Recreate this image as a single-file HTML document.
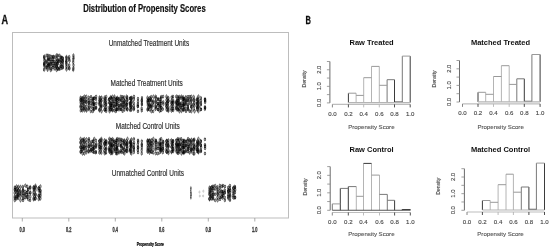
<!DOCTYPE html>
<html><head><meta charset="utf-8"><style>
html,body{margin:0;padding:0;background:#fff;}
body{width:550px;height:249px;overflow:hidden;}
svg{display:block;font-family:"Liberation Sans", Arial, sans-serif;}
</style></head><body>
<svg width="550" height="249" viewBox="0 0 550 249">
<defs><filter id="bl" x="-5%" y="-20%" width="110%" height="140%"><feGaussianBlur stdDeviation="0.3 0.7"/></filter><filter id="gb" x="0" y="0" width="550" height="249" filterUnits="userSpaceOnUse"><feGaussianBlur stdDeviation="0.3"/></filter></defs>
<rect width="550" height="249" fill="#fff"/>
<g filter="url(#gb)">
<text x="0.00" y="0.00" transform="translate(4.85,23.70) scale(0.76,1)" font-size="12.0" font-weight="bold" fill="#111" stroke="#111" stroke-width="0.3" text-anchor="middle" >A</text>
<text x="0.00" y="0.00" transform="translate(144.40,12.40) scale(0.715,1)" font-size="10.8" font-weight="bold" fill="#111" stroke="#111" stroke-width="0.2" text-anchor="middle" >Distribution of Propensity Scores</text>
<rect x="12.5" y="32.5" width="276" height="185.5" fill="none" stroke="#bdbdbd" stroke-width="1"/>
<text x="0.00" y="0.00" transform="translate(148.90,46.30) scale(0.744,1)" font-size="8.7" font-weight="normal" fill="#2e2e2e" stroke="#2e2e2e" stroke-width="0.18" text-anchor="middle" >Unmatched Treatment Units</text>
<text x="0.00" y="0.00" transform="translate(146.60,85.70) scale(0.744,1)" font-size="8.7" font-weight="normal" fill="#2e2e2e" stroke="#2e2e2e" stroke-width="0.18" text-anchor="middle" >Matched Treatment Units</text>
<text x="0.00" y="0.00" transform="translate(147.80,129.20) scale(0.744,1)" font-size="8.7" font-weight="normal" fill="#2e2e2e" stroke="#2e2e2e" stroke-width="0.18" text-anchor="middle" >Matched Control Units</text>
<text x="0.00" y="0.00" transform="translate(147.90,175.50) scale(0.744,1)" font-size="8.7" font-weight="normal" fill="#2e2e2e" stroke="#2e2e2e" stroke-width="0.18" text-anchor="middle" >Unmatched Control Units</text>
<line x1="22.30" y1="218" x2="22.30" y2="221.5" stroke="#999" stroke-width="0.8"/>
<text x="0.00" y="0.00" transform="translate(22.30,231.80) scale(0.56,1)" font-size="7.0" font-weight="bold" fill="#333" stroke="#333" stroke-width="0.3" text-anchor="middle" >0.0</text>
<line x1="68.80" y1="218" x2="68.80" y2="221.5" stroke="#999" stroke-width="0.8"/>
<text x="0.00" y="0.00" transform="translate(68.80,231.80) scale(0.56,1)" font-size="7.0" font-weight="bold" fill="#333" stroke="#333" stroke-width="0.3" text-anchor="middle" >0.2</text>
<line x1="115.30" y1="218" x2="115.30" y2="221.5" stroke="#999" stroke-width="0.8"/>
<text x="0.00" y="0.00" transform="translate(115.30,231.80) scale(0.56,1)" font-size="7.0" font-weight="bold" fill="#333" stroke="#333" stroke-width="0.3" text-anchor="middle" >0.4</text>
<line x1="161.80" y1="218" x2="161.80" y2="221.5" stroke="#999" stroke-width="0.8"/>
<text x="0.00" y="0.00" transform="translate(161.80,231.80) scale(0.56,1)" font-size="7.0" font-weight="bold" fill="#333" stroke="#333" stroke-width="0.3" text-anchor="middle" >0.6</text>
<line x1="208.30" y1="218" x2="208.30" y2="221.5" stroke="#999" stroke-width="0.8"/>
<text x="0.00" y="0.00" transform="translate(208.30,231.80) scale(0.56,1)" font-size="7.0" font-weight="bold" fill="#333" stroke="#333" stroke-width="0.3" text-anchor="middle" >0.8</text>
<line x1="254.80" y1="218" x2="254.80" y2="221.5" stroke="#999" stroke-width="0.8"/>
<text x="0.00" y="0.00" transform="translate(254.80,231.80) scale(0.56,1)" font-size="7.0" font-weight="bold" fill="#333" stroke="#333" stroke-width="0.3" text-anchor="middle" >1.0</text>
<text x="0.00" y="0.00" transform="translate(150.40,245.70) scale(0.61,1)" font-size="5.4" font-weight="bold" fill="#000" stroke="#000" stroke-width="0.25" text-anchor="middle" >Propensity Score</text>
<g fill="#000" filter="url(#bl)"><rect x="80.15" y="96.13" width="4.70" height="14.80" fill-opacity="0.27"/><rect x="87.85" y="96.58" width="1.80" height="14.06" fill-opacity="0.18"/><rect x="92.35" y="96.52" width="2.30" height="14.84" fill-opacity="0.09"/><rect x="98.95" y="96.08" width="2.90" height="14.54" fill-opacity="0.30"/><rect x="104.05" y="97.13" width="2.60" height="13.66" fill-opacity="0.18"/><rect x="108.85" y="97.08" width="4.10" height="14.32" fill-opacity="0.33"/><rect x="115.55" y="96.66" width="2.10" height="14.40" fill-opacity="0.27"/><rect x="120.15" y="95.93" width="1.70" height="15.14" fill-opacity="0.23"/><rect x="123.55" y="97.18" width="1.70" height="14.62" fill-opacity="0.23"/><rect x="125.95" y="96.65" width="2.00" height="14.98" fill-opacity="0.04"/><rect x="129.65" y="95.98" width="2.30" height="15.72" fill-opacity="0.30"/><rect x="147.15" y="97.10" width="4.70" height="13.68" fill-opacity="0.27"/><rect x="154.85" y="96.25" width="1.80" height="14.31" fill-opacity="0.18"/><rect x="159.35" y="96.67" width="2.30" height="14.95" fill-opacity="0.09"/><rect x="165.95" y="96.19" width="2.90" height="15.58" fill-opacity="0.30"/><rect x="171.05" y="96.61" width="2.60" height="14.41" fill-opacity="0.18"/><rect x="175.85" y="96.48" width="4.10" height="15.08" fill-opacity="0.33"/><rect x="182.55" y="96.90" width="2.10" height="14.44" fill-opacity="0.27"/><rect x="187.15" y="97.34" width="1.70" height="13.13" fill-opacity="0.23"/><rect x="190.55" y="97.38" width="1.70" height="14.12" fill-opacity="0.23"/><rect x="192.95" y="97.01" width="2.00" height="14.59" fill-opacity="0.04"/><rect x="196.65" y="96.34" width="2.30" height="15.38" fill-opacity="0.30"/><rect x="80.15" y="139.03" width="4.70" height="14.21" fill-opacity="0.27"/><rect x="87.85" y="138.89" width="1.80" height="15.04" fill-opacity="0.18"/><rect x="92.35" y="139.60" width="2.30" height="14.51" fill-opacity="0.09"/><rect x="98.95" y="138.47" width="2.90" height="14.62" fill-opacity="0.30"/><rect x="104.05" y="138.57" width="2.60" height="15.41" fill-opacity="0.18"/><rect x="108.85" y="138.46" width="4.10" height="15.27" fill-opacity="0.33"/><rect x="115.55" y="138.41" width="2.10" height="15.74" fill-opacity="0.27"/><rect x="120.15" y="138.82" width="1.70" height="14.73" fill-opacity="0.23"/><rect x="123.55" y="139.15" width="1.70" height="14.92" fill-opacity="0.23"/><rect x="125.95" y="138.55" width="2.00" height="14.96" fill-opacity="0.04"/><rect x="129.65" y="138.44" width="2.30" height="15.27" fill-opacity="0.30"/><rect x="147.15" y="138.52" width="4.70" height="14.66" fill-opacity="0.27"/><rect x="154.85" y="138.29" width="1.80" height="14.67" fill-opacity="0.18"/><rect x="159.35" y="139.46" width="2.30" height="14.45" fill-opacity="0.09"/><rect x="165.95" y="138.85" width="2.90" height="14.71" fill-opacity="0.30"/><rect x="171.05" y="139.13" width="2.60" height="14.13" fill-opacity="0.18"/><rect x="175.85" y="138.87" width="4.10" height="15.31" fill-opacity="0.33"/><rect x="182.55" y="138.64" width="2.10" height="15.47" fill-opacity="0.27"/><rect x="187.15" y="139.33" width="1.70" height="13.69" fill-opacity="0.23"/><rect x="190.55" y="138.25" width="1.70" height="14.46" fill-opacity="0.23"/><rect x="192.95" y="138.28" width="2.00" height="15.09" fill-opacity="0.04"/><rect x="196.65" y="139.38" width="2.30" height="13.76" fill-opacity="0.30"/><rect x="43.35" y="56.14" width="1.80" height="13.66" fill-opacity="0.36"/><rect x="45.85" y="56.01" width="0.80" height="14.28" fill-opacity="0.04"/><rect x="47.35" y="55.96" width="0.80" height="13.78" fill-opacity="0.32"/><rect x="50.35" y="55.69" width="3.30" height="15.10" fill-opacity="0.23"/><rect x="55.95" y="55.01" width="2.30" height="14.91" fill-opacity="0.23"/><rect x="60.35" y="56.13" width="2.90" height="13.35" fill-opacity="0.23"/><rect x="65.55" y="56.06" width="1.70" height="13.83" fill-opacity="0.30"/><rect x="14.35" y="186.04" width="4.70" height="14.15" fill-opacity="0.19"/><rect x="22.05" y="185.46" width="1.80" height="14.84" fill-opacity="0.13"/><rect x="26.55" y="185.17" width="2.30" height="14.78" fill-opacity="0.06"/><rect x="33.15" y="184.92" width="2.90" height="14.83" fill-opacity="0.21"/><rect x="38.25" y="185.98" width="2.60" height="14.59" fill-opacity="0.13"/><rect x="208.95" y="185.96" width="4.70" height="14.80" fill-opacity="0.19"/><rect x="216.65" y="185.10" width="1.80" height="15.39" fill-opacity="0.13"/><rect x="221.15" y="185.28" width="2.30" height="14.97" fill-opacity="0.06"/><rect x="227.75" y="186.04" width="2.90" height="14.79" fill-opacity="0.21"/><rect x="232.85" y="185.90" width="2.60" height="14.10" fill-opacity="0.13"/></g>
<g fill="none" stroke="#000" stroke-width="0.65" filter="url(#bl)"><ellipse cx="80.67" cy="97.76" rx="0.70" ry="1.7"/><ellipse cx="80.73" cy="99.75" rx="0.70" ry="1.7"/><ellipse cx="80.66" cy="100.27" rx="0.70" ry="1.7"/><ellipse cx="80.72" cy="102.53" rx="0.70" ry="1.7"/><ellipse cx="80.73" cy="105.73" rx="0.70" ry="1.7"/><ellipse cx="80.65" cy="107.15" rx="0.70" ry="1.7"/><ellipse cx="80.85" cy="110.58" rx="0.70" ry="1.7"/><ellipse cx="82.45" cy="99.23" rx="0.70" ry="1.7"/><ellipse cx="82.56" cy="98.22" rx="0.70" ry="1.7"/><ellipse cx="82.42" cy="100.63" rx="0.70" ry="1.7"/><ellipse cx="82.42" cy="102.62" rx="0.70" ry="1.7"/><ellipse cx="82.71" cy="104.92" rx="0.70" ry="1.7"/><ellipse cx="82.43" cy="108.34" rx="0.70" ry="1.7"/><ellipse cx="82.41" cy="110.32" rx="0.70" ry="1.7"/><ellipse cx="84.35" cy="96.60" rx="0.70" ry="1.7"/><ellipse cx="84.47" cy="99.49" rx="0.70" ry="1.7"/><ellipse cx="84.19" cy="101.19" rx="0.70" ry="1.7"/><ellipse cx="84.23" cy="103.23" rx="0.70" ry="1.7"/><ellipse cx="84.27" cy="106.97" rx="0.70" ry="1.7"/><ellipse cx="84.21" cy="108.32" rx="0.70" ry="1.7"/><ellipse cx="84.44" cy="110.24" rx="0.70" ry="1.7"/><ellipse cx="86.21" cy="96.60" rx="0.70" ry="1.7"/><ellipse cx="86.35" cy="99.46" rx="0.70" ry="1.7"/><ellipse cx="86.28" cy="101.78" rx="0.70" ry="1.7"/><ellipse cx="86.25" cy="102.36" rx="0.70" ry="1.7"/><ellipse cx="86.17" cy="106.23" rx="0.70" ry="1.7"/><ellipse cx="86.28" cy="109.32" rx="0.70" ry="1.7"/><ellipse cx="86.52" cy="110.47" rx="0.70" ry="1.7"/><ellipse cx="88.73" cy="97.56" rx="0.70" ry="1.7"/><ellipse cx="88.71" cy="100.40" rx="0.70" ry="1.7"/><ellipse cx="88.97" cy="102.31" rx="0.70" ry="1.7"/><ellipse cx="88.74" cy="103.18" rx="0.70" ry="1.7"/><ellipse cx="88.74" cy="105.60" rx="0.70" ry="1.7"/><ellipse cx="88.73" cy="107.94" rx="0.70" ry="1.7"/><ellipse cx="88.78" cy="109.05" rx="0.70" ry="1.7"/><ellipse cx="91.03" cy="96.88" rx="0.65" ry="1.7"/><ellipse cx="91.03" cy="100.47" rx="0.65" ry="1.7"/><ellipse cx="90.96" cy="103.66" rx="0.65" ry="1.7"/><ellipse cx="91.17" cy="107.05" rx="0.65" ry="1.7"/><ellipse cx="90.85" cy="111.20" rx="0.65" ry="1.7"/><ellipse cx="92.94" cy="99.17" rx="0.70" ry="1.7"/><ellipse cx="92.96" cy="98.83" rx="0.70" ry="1.7"/><ellipse cx="92.74" cy="100.92" rx="0.70" ry="1.7"/><ellipse cx="92.92" cy="103.11" rx="0.70" ry="1.7"/><ellipse cx="92.80" cy="104.33" rx="0.70" ry="1.7"/><ellipse cx="92.96" cy="108.29" rx="0.70" ry="1.7"/><ellipse cx="92.85" cy="111.20" rx="0.70" ry="1.7"/><ellipse cx="93.97" cy="98.23" rx="0.70" ry="1.7"/><ellipse cx="94.27" cy="98.24" rx="0.70" ry="1.7"/><ellipse cx="93.98" cy="103.06" rx="0.70" ry="1.7"/><ellipse cx="94.01" cy="104.89" rx="0.70" ry="1.7"/><ellipse cx="94.18" cy="104.66" rx="0.70" ry="1.7"/><ellipse cx="94.14" cy="108.52" rx="0.70" ry="1.7"/><ellipse cx="94.12" cy="109.19" rx="0.70" ry="1.7"/><ellipse cx="96.07" cy="96.60" rx="0.65" ry="1.7"/><ellipse cx="96.00" cy="99.12" rx="0.65" ry="1.7"/><ellipse cx="96.24" cy="103.26" rx="0.65" ry="1.7"/><ellipse cx="96.04" cy="107.35" rx="0.65" ry="1.7"/><ellipse cx="96.00" cy="108.10" rx="0.65" ry="1.7"/><ellipse cx="99.61" cy="97.53" rx="0.70" ry="1.7"/><ellipse cx="99.55" cy="99.67" rx="0.70" ry="1.7"/><ellipse cx="99.53" cy="101.29" rx="0.70" ry="1.7"/><ellipse cx="99.53" cy="103.11" rx="0.70" ry="1.7"/><ellipse cx="99.44" cy="104.39" rx="0.70" ry="1.7"/><ellipse cx="99.43" cy="109.58" rx="0.70" ry="1.7"/><ellipse cx="99.49" cy="110.30" rx="0.70" ry="1.7"/><ellipse cx="101.54" cy="97.74" rx="0.70" ry="1.7"/><ellipse cx="101.27" cy="100.38" rx="0.70" ry="1.7"/><ellipse cx="101.25" cy="101.02" rx="0.70" ry="1.7"/><ellipse cx="101.35" cy="104.81" rx="0.70" ry="1.7"/><ellipse cx="101.32" cy="106.09" rx="0.70" ry="1.7"/><ellipse cx="101.19" cy="107.15" rx="0.70" ry="1.7"/><ellipse cx="101.53" cy="111.20" rx="0.70" ry="1.7"/><ellipse cx="104.58" cy="97.70" rx="0.70" ry="1.7"/><ellipse cx="104.63" cy="99.25" rx="0.70" ry="1.7"/><ellipse cx="104.61" cy="101.08" rx="0.70" ry="1.7"/><ellipse cx="104.49" cy="103.10" rx="0.70" ry="1.7"/><ellipse cx="104.32" cy="105.81" rx="0.70" ry="1.7"/><ellipse cx="104.90" cy="109.53" rx="0.70" ry="1.7"/><ellipse cx="104.58" cy="109.71" rx="0.70" ry="1.7"/><ellipse cx="106.13" cy="96.73" rx="0.70" ry="1.7"/><ellipse cx="106.18" cy="100.14" rx="0.70" ry="1.7"/><ellipse cx="106.17" cy="103.15" rx="0.70" ry="1.7"/><ellipse cx="105.98" cy="104.41" rx="0.70" ry="1.7"/><ellipse cx="106.25" cy="106.99" rx="0.70" ry="1.7"/><ellipse cx="106.19" cy="109.44" rx="0.70" ry="1.7"/><ellipse cx="106.10" cy="111.10" rx="0.70" ry="1.7"/><ellipse cx="109.26" cy="99.22" rx="0.70" ry="1.7"/><ellipse cx="109.16" cy="99.38" rx="0.70" ry="1.7"/><ellipse cx="109.57" cy="102.56" rx="0.70" ry="1.7"/><ellipse cx="109.45" cy="102.80" rx="0.70" ry="1.7"/><ellipse cx="109.45" cy="107.34" rx="0.70" ry="1.7"/><ellipse cx="109.54" cy="109.09" rx="0.70" ry="1.7"/><ellipse cx="109.58" cy="111.20" rx="0.70" ry="1.7"/><ellipse cx="110.84" cy="97.14" rx="0.70" ry="1.7"/><ellipse cx="110.88" cy="98.11" rx="0.70" ry="1.7"/><ellipse cx="110.81" cy="103.39" rx="0.70" ry="1.7"/><ellipse cx="110.78" cy="105.35" rx="0.70" ry="1.7"/><ellipse cx="111.06" cy="105.76" rx="0.70" ry="1.7"/><ellipse cx="110.74" cy="107.11" rx="0.70" ry="1.7"/><ellipse cx="110.88" cy="109.33" rx="0.70" ry="1.7"/><ellipse cx="112.49" cy="96.84" rx="0.70" ry="1.7"/><ellipse cx="112.58" cy="99.46" rx="0.70" ry="1.7"/><ellipse cx="112.59" cy="101.33" rx="0.70" ry="1.7"/><ellipse cx="112.17" cy="103.76" rx="0.70" ry="1.7"/><ellipse cx="112.27" cy="105.72" rx="0.70" ry="1.7"/><ellipse cx="112.25" cy="109.47" rx="0.70" ry="1.7"/><ellipse cx="112.40" cy="110.24" rx="0.70" ry="1.7"/><ellipse cx="114.46" cy="96.60" rx="0.60" ry="1.7"/><ellipse cx="114.26" cy="98.64" rx="0.60" ry="1.7"/><ellipse cx="114.23" cy="101.73" rx="0.60" ry="1.7"/><ellipse cx="114.10" cy="103.32" rx="0.60" ry="1.7"/><ellipse cx="114.05" cy="106.05" rx="0.60" ry="1.7"/><ellipse cx="114.18" cy="106.76" rx="0.60" ry="1.7"/><ellipse cx="114.25" cy="110.36" rx="0.60" ry="1.7"/><ellipse cx="116.20" cy="99.02" rx="0.70" ry="1.7"/><ellipse cx="115.99" cy="99.54" rx="0.70" ry="1.7"/><ellipse cx="116.01" cy="101.85" rx="0.70" ry="1.7"/><ellipse cx="115.96" cy="104.54" rx="0.70" ry="1.7"/><ellipse cx="116.14" cy="105.91" rx="0.70" ry="1.7"/><ellipse cx="116.02" cy="109.54" rx="0.70" ry="1.7"/><ellipse cx="115.87" cy="111.20" rx="0.70" ry="1.7"/><ellipse cx="117.32" cy="97.84" rx="0.70" ry="1.7"/><ellipse cx="117.02" cy="98.52" rx="0.70" ry="1.7"/><ellipse cx="117.06" cy="100.55" rx="0.70" ry="1.7"/><ellipse cx="117.12" cy="103.03" rx="0.70" ry="1.7"/><ellipse cx="117.00" cy="104.56" rx="0.70" ry="1.7"/><ellipse cx="116.92" cy="109.40" rx="0.70" ry="1.7"/><ellipse cx="117.06" cy="109.00" rx="0.70" ry="1.7"/><ellipse cx="118.73" cy="99.20" rx="0.55" ry="1.7"/><ellipse cx="119.02" cy="98.79" rx="0.55" ry="1.7"/><ellipse cx="118.86" cy="101.77" rx="0.55" ry="1.7"/><ellipse cx="118.94" cy="105.53" rx="0.55" ry="1.7"/><ellipse cx="118.84" cy="105.76" rx="0.55" ry="1.7"/><ellipse cx="118.86" cy="108.12" rx="0.55" ry="1.7"/><ellipse cx="118.97" cy="109.55" rx="0.55" ry="1.7"/><ellipse cx="120.92" cy="96.60" rx="0.70" ry="1.7"/><ellipse cx="121.15" cy="99.77" rx="0.70" ry="1.7"/><ellipse cx="121.21" cy="100.36" rx="0.70" ry="1.7"/><ellipse cx="120.98" cy="105.47" rx="0.70" ry="1.7"/><ellipse cx="121.00" cy="104.67" rx="0.70" ry="1.7"/><ellipse cx="121.03" cy="109.00" rx="0.70" ry="1.7"/><ellipse cx="121.09" cy="109.39" rx="0.70" ry="1.7"/><ellipse cx="122.79" cy="96.84" rx="0.50" ry="1.7"/><ellipse cx="122.84" cy="98.56" rx="0.50" ry="1.7"/><ellipse cx="122.62" cy="102.48" rx="0.50" ry="1.7"/><ellipse cx="122.87" cy="102.53" rx="0.50" ry="1.7"/><ellipse cx="122.76" cy="105.74" rx="0.50" ry="1.7"/><ellipse cx="122.86" cy="106.64" rx="0.50" ry="1.7"/><ellipse cx="122.64" cy="111.16" rx="0.50" ry="1.7"/><ellipse cx="124.32" cy="97.49" rx="0.70" ry="1.7"/><ellipse cx="124.53" cy="101.15" rx="0.70" ry="1.7"/><ellipse cx="124.50" cy="101.04" rx="0.70" ry="1.7"/><ellipse cx="124.51" cy="103.03" rx="0.70" ry="1.7"/><ellipse cx="124.42" cy="104.68" rx="0.70" ry="1.7"/><ellipse cx="124.43" cy="107.08" rx="0.70" ry="1.7"/><ellipse cx="124.33" cy="109.53" rx="0.70" ry="1.7"/><ellipse cx="126.69" cy="96.60" rx="0.70" ry="1.7"/><ellipse cx="126.69" cy="99.81" rx="0.70" ry="1.7"/><ellipse cx="126.52" cy="104.14" rx="0.70" ry="1.7"/><ellipse cx="126.22" cy="105.37" rx="0.70" ry="1.7"/><ellipse cx="126.54" cy="107.90" rx="0.70" ry="1.7"/><ellipse cx="127.17" cy="97.55" rx="0.70" ry="1.7"/><ellipse cx="127.41" cy="99.83" rx="0.70" ry="1.7"/><ellipse cx="127.27" cy="102.71" rx="0.70" ry="1.7"/><ellipse cx="127.08" cy="104.50" rx="0.70" ry="1.7"/><ellipse cx="127.35" cy="108.84" rx="0.70" ry="1.7"/><ellipse cx="127.24" cy="109.61" rx="0.70" ry="1.7"/><ellipse cx="130.20" cy="98.45" rx="0.70" ry="1.7"/><ellipse cx="130.27" cy="98.34" rx="0.70" ry="1.7"/><ellipse cx="130.32" cy="102.95" rx="0.70" ry="1.7"/><ellipse cx="130.07" cy="103.17" rx="0.70" ry="1.7"/><ellipse cx="130.16" cy="105.13" rx="0.70" ry="1.7"/><ellipse cx="130.33" cy="106.93" rx="0.70" ry="1.7"/><ellipse cx="130.17" cy="109.98" rx="0.70" ry="1.7"/><ellipse cx="131.71" cy="97.80" rx="0.70" ry="1.7"/><ellipse cx="131.50" cy="98.88" rx="0.70" ry="1.7"/><ellipse cx="131.38" cy="101.34" rx="0.70" ry="1.7"/><ellipse cx="131.30" cy="102.23" rx="0.70" ry="1.7"/><ellipse cx="131.49" cy="105.99" rx="0.70" ry="1.7"/><ellipse cx="131.39" cy="107.07" rx="0.70" ry="1.7"/><ellipse cx="131.40" cy="109.37" rx="0.70" ry="1.7"/><ellipse cx="133.95" cy="96.60" rx="0.70" ry="1.7"/><ellipse cx="133.86" cy="99.21" rx="0.70" ry="1.7"/><ellipse cx="133.65" cy="103.02" rx="0.70" ry="1.7"/><ellipse cx="133.81" cy="105.73" rx="0.70" ry="1.7"/><ellipse cx="133.94" cy="108.39" rx="0.70" ry="1.7"/><ellipse cx="133.77" cy="109.31" rx="0.70" ry="1.7"/><ellipse cx="137.98" cy="98.69" rx="0.65" ry="1.7"/><ellipse cx="137.97" cy="101.56" rx="0.65" ry="1.7"/><ellipse cx="137.86" cy="104.21" rx="0.65" ry="1.7"/><ellipse cx="137.86" cy="106.33" rx="0.65" ry="1.7"/><ellipse cx="137.86" cy="106.15" rx="0.65" ry="1.7"/><ellipse cx="137.98" cy="111.20" rx="0.65" ry="1.7"/><ellipse cx="141.99" cy="97.92" rx="0.60" ry="1.7"/><ellipse cx="141.74" cy="100.37" rx="0.60" ry="1.7"/><ellipse cx="141.91" cy="100.91" rx="0.60" ry="1.7"/><ellipse cx="141.86" cy="103.44" rx="0.60" ry="1.7"/><ellipse cx="141.93" cy="104.67" rx="0.60" ry="1.7"/><ellipse cx="141.72" cy="108.50" rx="0.60" ry="1.7"/><ellipse cx="141.79" cy="110.58" rx="0.60" ry="1.7"/><ellipse cx="147.57" cy="97.76" rx="0.70" ry="1.7"/><ellipse cx="147.88" cy="100.26" rx="0.70" ry="1.7"/><ellipse cx="147.78" cy="100.99" rx="0.70" ry="1.7"/><ellipse cx="147.68" cy="102.48" rx="0.70" ry="1.7"/><ellipse cx="147.89" cy="105.00" rx="0.70" ry="1.7"/><ellipse cx="147.84" cy="108.87" rx="0.70" ry="1.7"/><ellipse cx="147.68" cy="109.77" rx="0.70" ry="1.7"/><ellipse cx="149.52" cy="98.26" rx="0.70" ry="1.7"/><ellipse cx="149.33" cy="100.20" rx="0.70" ry="1.7"/><ellipse cx="149.56" cy="100.40" rx="0.70" ry="1.7"/><ellipse cx="149.57" cy="104.71" rx="0.70" ry="1.7"/><ellipse cx="149.48" cy="105.33" rx="0.70" ry="1.7"/><ellipse cx="149.49" cy="106.61" rx="0.70" ry="1.7"/><ellipse cx="149.41" cy="109.39" rx="0.70" ry="1.7"/><ellipse cx="151.14" cy="96.94" rx="0.70" ry="1.7"/><ellipse cx="151.17" cy="99.78" rx="0.70" ry="1.7"/><ellipse cx="151.33" cy="100.54" rx="0.70" ry="1.7"/><ellipse cx="151.40" cy="105.21" rx="0.70" ry="1.7"/><ellipse cx="151.62" cy="107.44" rx="0.70" ry="1.7"/><ellipse cx="151.09" cy="106.46" rx="0.70" ry="1.7"/><ellipse cx="151.36" cy="111.20" rx="0.70" ry="1.7"/><ellipse cx="153.43" cy="96.70" rx="0.70" ry="1.7"/><ellipse cx="153.32" cy="101.36" rx="0.70" ry="1.7"/><ellipse cx="153.06" cy="102.23" rx="0.70" ry="1.7"/><ellipse cx="153.31" cy="105.10" rx="0.70" ry="1.7"/><ellipse cx="153.10" cy="111.20" rx="0.70" ry="1.7"/><ellipse cx="155.74" cy="96.60" rx="0.70" ry="1.7"/><ellipse cx="155.62" cy="98.07" rx="0.70" ry="1.7"/><ellipse cx="155.76" cy="101.15" rx="0.70" ry="1.7"/><ellipse cx="155.69" cy="102.70" rx="0.70" ry="1.7"/><ellipse cx="155.84" cy="107.12" rx="0.70" ry="1.7"/><ellipse cx="155.75" cy="106.41" rx="0.70" ry="1.7"/><ellipse cx="155.52" cy="108.89" rx="0.70" ry="1.7"/><ellipse cx="157.97" cy="98.98" rx="0.65" ry="1.7"/><ellipse cx="158.11" cy="99.37" rx="0.65" ry="1.7"/><ellipse cx="157.90" cy="103.48" rx="0.65" ry="1.7"/><ellipse cx="157.94" cy="103.66" rx="0.65" ry="1.7"/><ellipse cx="158.05" cy="105.24" rx="0.65" ry="1.7"/><ellipse cx="158.02" cy="109.19" rx="0.65" ry="1.7"/><ellipse cx="158.08" cy="109.44" rx="0.65" ry="1.7"/><ellipse cx="159.86" cy="99.59" rx="0.70" ry="1.7"/><ellipse cx="159.96" cy="101.75" rx="0.70" ry="1.7"/><ellipse cx="159.74" cy="104.29" rx="0.70" ry="1.7"/><ellipse cx="159.72" cy="106.83" rx="0.70" ry="1.7"/><ellipse cx="159.84" cy="105.80" rx="0.70" ry="1.7"/><ellipse cx="159.71" cy="110.89" rx="0.70" ry="1.7"/><ellipse cx="161.16" cy="96.93" rx="0.70" ry="1.7"/><ellipse cx="161.16" cy="98.22" rx="0.70" ry="1.7"/><ellipse cx="161.07" cy="101.72" rx="0.70" ry="1.7"/><ellipse cx="161.04" cy="103.38" rx="0.70" ry="1.7"/><ellipse cx="161.29" cy="107.58" rx="0.70" ry="1.7"/><ellipse cx="161.04" cy="107.27" rx="0.70" ry="1.7"/><ellipse cx="161.02" cy="110.35" rx="0.70" ry="1.7"/><ellipse cx="163.07" cy="96.60" rx="0.65" ry="1.7"/><ellipse cx="163.25" cy="102.06" rx="0.65" ry="1.7"/><ellipse cx="163.34" cy="104.09" rx="0.65" ry="1.7"/><ellipse cx="162.78" cy="109.08" rx="0.65" ry="1.7"/><ellipse cx="166.51" cy="96.60" rx="0.70" ry="1.7"/><ellipse cx="166.59" cy="99.96" rx="0.70" ry="1.7"/><ellipse cx="166.50" cy="103.11" rx="0.70" ry="1.7"/><ellipse cx="166.38" cy="103.61" rx="0.70" ry="1.7"/><ellipse cx="166.42" cy="106.07" rx="0.70" ry="1.7"/><ellipse cx="166.58" cy="106.61" rx="0.70" ry="1.7"/><ellipse cx="166.56" cy="109.41" rx="0.70" ry="1.7"/><ellipse cx="168.29" cy="98.08" rx="0.70" ry="1.7"/><ellipse cx="168.32" cy="100.94" rx="0.70" ry="1.7"/><ellipse cx="168.39" cy="100.97" rx="0.70" ry="1.7"/><ellipse cx="168.02" cy="103.57" rx="0.70" ry="1.7"/><ellipse cx="168.40" cy="107.15" rx="0.70" ry="1.7"/><ellipse cx="168.33" cy="109.32" rx="0.70" ry="1.7"/><ellipse cx="168.30" cy="110.86" rx="0.70" ry="1.7"/><ellipse cx="171.80" cy="97.28" rx="0.70" ry="1.7"/><ellipse cx="171.50" cy="100.91" rx="0.70" ry="1.7"/><ellipse cx="171.60" cy="103.39" rx="0.70" ry="1.7"/><ellipse cx="171.66" cy="102.75" rx="0.70" ry="1.7"/><ellipse cx="171.48" cy="106.06" rx="0.70" ry="1.7"/><ellipse cx="171.34" cy="108.81" rx="0.70" ry="1.7"/><ellipse cx="171.61" cy="110.65" rx="0.70" ry="1.7"/><ellipse cx="172.97" cy="96.60" rx="0.70" ry="1.7"/><ellipse cx="173.13" cy="100.67" rx="0.70" ry="1.7"/><ellipse cx="173.37" cy="102.30" rx="0.70" ry="1.7"/><ellipse cx="173.16" cy="103.25" rx="0.70" ry="1.7"/><ellipse cx="173.17" cy="106.44" rx="0.70" ry="1.7"/><ellipse cx="173.13" cy="108.73" rx="0.70" ry="1.7"/><ellipse cx="173.13" cy="110.24" rx="0.70" ry="1.7"/><ellipse cx="176.36" cy="96.60" rx="0.70" ry="1.7"/><ellipse cx="176.53" cy="101.26" rx="0.70" ry="1.7"/><ellipse cx="176.50" cy="102.30" rx="0.70" ry="1.7"/><ellipse cx="176.31" cy="103.01" rx="0.70" ry="1.7"/><ellipse cx="176.58" cy="105.14" rx="0.70" ry="1.7"/><ellipse cx="176.35" cy="107.43" rx="0.70" ry="1.7"/><ellipse cx="176.22" cy="108.56" rx="0.70" ry="1.7"/><ellipse cx="177.90" cy="96.83" rx="0.70" ry="1.7"/><ellipse cx="177.98" cy="100.29" rx="0.70" ry="1.7"/><ellipse cx="177.86" cy="100.26" rx="0.70" ry="1.7"/><ellipse cx="177.74" cy="103.36" rx="0.70" ry="1.7"/><ellipse cx="177.99" cy="104.98" rx="0.70" ry="1.7"/><ellipse cx="177.89" cy="109.06" rx="0.70" ry="1.7"/><ellipse cx="177.76" cy="109.17" rx="0.70" ry="1.7"/><ellipse cx="179.44" cy="97.01" rx="0.70" ry="1.7"/><ellipse cx="179.32" cy="98.80" rx="0.70" ry="1.7"/><ellipse cx="179.32" cy="102.68" rx="0.70" ry="1.7"/><ellipse cx="179.68" cy="103.89" rx="0.70" ry="1.7"/><ellipse cx="179.42" cy="104.94" rx="0.70" ry="1.7"/><ellipse cx="179.52" cy="108.62" rx="0.70" ry="1.7"/><ellipse cx="179.47" cy="111.20" rx="0.70" ry="1.7"/><ellipse cx="181.35" cy="96.60" rx="0.60" ry="1.7"/><ellipse cx="181.36" cy="98.23" rx="0.60" ry="1.7"/><ellipse cx="181.29" cy="103.14" rx="0.60" ry="1.7"/><ellipse cx="181.20" cy="105.18" rx="0.60" ry="1.7"/><ellipse cx="180.84" cy="107.43" rx="0.60" ry="1.7"/><ellipse cx="181.36" cy="107.50" rx="0.60" ry="1.7"/><ellipse cx="181.51" cy="110.98" rx="0.60" ry="1.7"/><ellipse cx="183.10" cy="97.08" rx="0.70" ry="1.7"/><ellipse cx="183.11" cy="98.99" rx="0.70" ry="1.7"/><ellipse cx="183.16" cy="101.32" rx="0.70" ry="1.7"/><ellipse cx="183.08" cy="105.45" rx="0.70" ry="1.7"/><ellipse cx="182.96" cy="105.01" rx="0.70" ry="1.7"/><ellipse cx="183.27" cy="109.15" rx="0.70" ry="1.7"/><ellipse cx="183.23" cy="109.93" rx="0.70" ry="1.7"/><ellipse cx="184.14" cy="99.04" rx="0.70" ry="1.7"/><ellipse cx="183.93" cy="98.70" rx="0.70" ry="1.7"/><ellipse cx="184.29" cy="100.25" rx="0.70" ry="1.7"/><ellipse cx="184.18" cy="103.60" rx="0.70" ry="1.7"/><ellipse cx="183.91" cy="104.45" rx="0.70" ry="1.7"/><ellipse cx="184.35" cy="106.52" rx="0.70" ry="1.7"/><ellipse cx="184.20" cy="109.35" rx="0.70" ry="1.7"/><ellipse cx="185.86" cy="97.11" rx="0.55" ry="1.7"/><ellipse cx="186.20" cy="100.12" rx="0.55" ry="1.7"/><ellipse cx="185.88" cy="101.02" rx="0.55" ry="1.7"/><ellipse cx="185.80" cy="103.15" rx="0.55" ry="1.7"/><ellipse cx="185.91" cy="104.33" rx="0.55" ry="1.7"/><ellipse cx="185.63" cy="108.52" rx="0.55" ry="1.7"/><ellipse cx="185.99" cy="111.20" rx="0.55" ry="1.7"/><ellipse cx="188.01" cy="96.81" rx="0.70" ry="1.7"/><ellipse cx="187.72" cy="99.49" rx="0.70" ry="1.7"/><ellipse cx="188.01" cy="100.76" rx="0.70" ry="1.7"/><ellipse cx="187.98" cy="104.91" rx="0.70" ry="1.7"/><ellipse cx="187.78" cy="106.90" rx="0.70" ry="1.7"/><ellipse cx="187.95" cy="108.43" rx="0.70" ry="1.7"/><ellipse cx="188.09" cy="109.70" rx="0.70" ry="1.7"/><ellipse cx="189.70" cy="96.66" rx="0.50" ry="1.7"/><ellipse cx="189.61" cy="99.53" rx="0.50" ry="1.7"/><ellipse cx="189.60" cy="103.00" rx="0.50" ry="1.7"/><ellipse cx="189.67" cy="111.20" rx="0.50" ry="1.7"/><ellipse cx="191.21" cy="96.60" rx="0.70" ry="1.7"/><ellipse cx="191.40" cy="99.55" rx="0.70" ry="1.7"/><ellipse cx="191.26" cy="100.93" rx="0.70" ry="1.7"/><ellipse cx="191.48" cy="104.48" rx="0.70" ry="1.7"/><ellipse cx="191.50" cy="106.81" rx="0.70" ry="1.7"/><ellipse cx="191.25" cy="106.81" rx="0.70" ry="1.7"/><ellipse cx="191.36" cy="111.20" rx="0.70" ry="1.7"/><ellipse cx="193.65" cy="96.94" rx="0.70" ry="1.7"/><ellipse cx="193.62" cy="100.05" rx="0.70" ry="1.7"/><ellipse cx="193.40" cy="104.71" rx="0.70" ry="1.7"/><ellipse cx="193.64" cy="108.77" rx="0.70" ry="1.7"/><ellipse cx="194.39" cy="100.23" rx="0.70" ry="1.7"/><ellipse cx="194.46" cy="102.97" rx="0.70" ry="1.7"/><ellipse cx="194.40" cy="105.58" rx="0.70" ry="1.7"/><ellipse cx="194.54" cy="111.20" rx="0.70" ry="1.7"/><ellipse cx="196.98" cy="99.22" rx="0.70" ry="1.7"/><ellipse cx="197.30" cy="100.01" rx="0.70" ry="1.7"/><ellipse cx="197.15" cy="103.04" rx="0.70" ry="1.7"/><ellipse cx="197.19" cy="103.73" rx="0.70" ry="1.7"/><ellipse cx="197.41" cy="107.47" rx="0.70" ry="1.7"/><ellipse cx="197.06" cy="106.76" rx="0.70" ry="1.7"/><ellipse cx="197.11" cy="109.21" rx="0.70" ry="1.7"/><ellipse cx="198.43" cy="96.60" rx="0.70" ry="1.7"/><ellipse cx="198.49" cy="100.06" rx="0.70" ry="1.7"/><ellipse cx="198.41" cy="102.32" rx="0.70" ry="1.7"/><ellipse cx="198.42" cy="103.32" rx="0.70" ry="1.7"/><ellipse cx="198.44" cy="106.58" rx="0.70" ry="1.7"/><ellipse cx="198.50" cy="107.08" rx="0.70" ry="1.7"/><ellipse cx="198.36" cy="111.14" rx="0.70" ry="1.7"/><ellipse cx="200.84" cy="98.01" rx="0.70" ry="1.7"/><ellipse cx="200.91" cy="100.79" rx="0.70" ry="1.7"/><ellipse cx="200.89" cy="103.44" rx="0.70" ry="1.7"/><ellipse cx="200.83" cy="104.77" rx="0.70" ry="1.7"/><ellipse cx="200.95" cy="109.31" rx="0.70" ry="1.7"/><ellipse cx="200.75" cy="109.25" rx="0.70" ry="1.7"/><ellipse cx="204.95" cy="99.30" rx="0.65" ry="1.7"/><ellipse cx="205.06" cy="99.27" rx="0.65" ry="1.7"/><ellipse cx="205.18" cy="100.83" rx="0.65" ry="1.7"/><ellipse cx="205.10" cy="102.25" rx="0.65" ry="1.7"/><ellipse cx="204.93" cy="107.05" rx="0.65" ry="1.7"/><ellipse cx="205.10" cy="107.76" rx="0.65" ry="1.7"/><ellipse cx="204.91" cy="109.03" rx="0.65" ry="1.7"/><ellipse cx="80.62" cy="138.90" rx="0.70" ry="1.7"/><ellipse cx="80.62" cy="142.04" rx="0.70" ry="1.7"/><ellipse cx="80.67" cy="142.93" rx="0.70" ry="1.7"/><ellipse cx="80.84" cy="147.62" rx="0.70" ry="1.7"/><ellipse cx="80.48" cy="146.98" rx="0.70" ry="1.7"/><ellipse cx="80.71" cy="151.93" rx="0.70" ry="1.7"/><ellipse cx="80.90" cy="151.45" rx="0.70" ry="1.7"/><ellipse cx="82.71" cy="139.89" rx="0.70" ry="1.7"/><ellipse cx="82.61" cy="140.54" rx="0.70" ry="1.7"/><ellipse cx="82.45" cy="145.46" rx="0.70" ry="1.7"/><ellipse cx="82.53" cy="146.60" rx="0.70" ry="1.7"/><ellipse cx="82.44" cy="149.24" rx="0.70" ry="1.7"/><ellipse cx="82.31" cy="149.44" rx="0.70" ry="1.7"/><ellipse cx="82.63" cy="153.50" rx="0.70" ry="1.7"/><ellipse cx="84.18" cy="139.00" rx="0.70" ry="1.7"/><ellipse cx="84.39" cy="141.64" rx="0.70" ry="1.7"/><ellipse cx="84.30" cy="142.86" rx="0.70" ry="1.7"/><ellipse cx="84.49" cy="147.53" rx="0.70" ry="1.7"/><ellipse cx="84.11" cy="146.75" rx="0.70" ry="1.7"/><ellipse cx="84.22" cy="148.83" rx="0.70" ry="1.7"/><ellipse cx="84.42" cy="153.50" rx="0.70" ry="1.7"/><ellipse cx="86.46" cy="139.36" rx="0.70" ry="1.7"/><ellipse cx="86.24" cy="142.24" rx="0.70" ry="1.7"/><ellipse cx="86.29" cy="145.60" rx="0.70" ry="1.7"/><ellipse cx="86.33" cy="147.21" rx="0.70" ry="1.7"/><ellipse cx="86.36" cy="150.31" rx="0.70" ry="1.7"/><ellipse cx="86.37" cy="152.24" rx="0.70" ry="1.7"/><ellipse cx="88.95" cy="138.90" rx="0.70" ry="1.7"/><ellipse cx="88.70" cy="140.79" rx="0.70" ry="1.7"/><ellipse cx="88.77" cy="143.92" rx="0.70" ry="1.7"/><ellipse cx="88.92" cy="146.23" rx="0.70" ry="1.7"/><ellipse cx="88.79" cy="146.89" rx="0.70" ry="1.7"/><ellipse cx="88.77" cy="151.15" rx="0.70" ry="1.7"/><ellipse cx="88.61" cy="150.97" rx="0.70" ry="1.7"/><ellipse cx="91.16" cy="141.87" rx="0.65" ry="1.7"/><ellipse cx="91.18" cy="144.48" rx="0.65" ry="1.7"/><ellipse cx="91.03" cy="145.89" rx="0.65" ry="1.7"/><ellipse cx="90.93" cy="149.29" rx="0.65" ry="1.7"/><ellipse cx="91.26" cy="149.82" rx="0.65" ry="1.7"/><ellipse cx="90.93" cy="150.98" rx="0.65" ry="1.7"/><ellipse cx="93.04" cy="141.11" rx="0.70" ry="1.7"/><ellipse cx="93.11" cy="141.67" rx="0.70" ry="1.7"/><ellipse cx="92.99" cy="146.21" rx="0.70" ry="1.7"/><ellipse cx="93.01" cy="149.05" rx="0.70" ry="1.7"/><ellipse cx="92.89" cy="148.71" rx="0.70" ry="1.7"/><ellipse cx="93.04" cy="151.58" rx="0.70" ry="1.7"/><ellipse cx="94.25" cy="138.90" rx="0.70" ry="1.7"/><ellipse cx="94.34" cy="144.12" rx="0.70" ry="1.7"/><ellipse cx="94.20" cy="148.05" rx="0.70" ry="1.7"/><ellipse cx="94.28" cy="147.32" rx="0.70" ry="1.7"/><ellipse cx="94.03" cy="152.18" rx="0.70" ry="1.7"/><ellipse cx="95.91" cy="140.43" rx="0.65" ry="1.7"/><ellipse cx="96.30" cy="144.04" rx="0.65" ry="1.7"/><ellipse cx="96.23" cy="145.49" rx="0.65" ry="1.7"/><ellipse cx="96.03" cy="147.00" rx="0.65" ry="1.7"/><ellipse cx="95.91" cy="151.76" rx="0.65" ry="1.7"/><ellipse cx="95.87" cy="152.58" rx="0.65" ry="1.7"/><ellipse cx="99.66" cy="141.01" rx="0.70" ry="1.7"/><ellipse cx="99.28" cy="141.21" rx="0.70" ry="1.7"/><ellipse cx="99.24" cy="144.40" rx="0.70" ry="1.7"/><ellipse cx="99.50" cy="146.75" rx="0.70" ry="1.7"/><ellipse cx="99.51" cy="146.73" rx="0.70" ry="1.7"/><ellipse cx="99.40" cy="149.20" rx="0.70" ry="1.7"/><ellipse cx="99.41" cy="152.50" rx="0.70" ry="1.7"/><ellipse cx="101.32" cy="138.90" rx="0.70" ry="1.7"/><ellipse cx="101.47" cy="140.43" rx="0.70" ry="1.7"/><ellipse cx="101.27" cy="142.45" rx="0.70" ry="1.7"/><ellipse cx="101.34" cy="145.72" rx="0.70" ry="1.7"/><ellipse cx="101.16" cy="147.37" rx="0.70" ry="1.7"/><ellipse cx="101.22" cy="149.38" rx="0.70" ry="1.7"/><ellipse cx="101.24" cy="152.87" rx="0.70" ry="1.7"/><ellipse cx="104.61" cy="140.40" rx="0.70" ry="1.7"/><ellipse cx="104.62" cy="143.27" rx="0.70" ry="1.7"/><ellipse cx="104.48" cy="143.33" rx="0.70" ry="1.7"/><ellipse cx="104.51" cy="144.57" rx="0.70" ry="1.7"/><ellipse cx="104.48" cy="147.79" rx="0.70" ry="1.7"/><ellipse cx="104.34" cy="150.86" rx="0.70" ry="1.7"/><ellipse cx="104.70" cy="153.24" rx="0.70" ry="1.7"/><ellipse cx="106.24" cy="141.29" rx="0.70" ry="1.7"/><ellipse cx="106.14" cy="141.71" rx="0.70" ry="1.7"/><ellipse cx="106.29" cy="143.24" rx="0.70" ry="1.7"/><ellipse cx="106.17" cy="144.57" rx="0.70" ry="1.7"/><ellipse cx="106.16" cy="148.46" rx="0.70" ry="1.7"/><ellipse cx="106.08" cy="149.37" rx="0.70" ry="1.7"/><ellipse cx="105.93" cy="152.82" rx="0.70" ry="1.7"/><ellipse cx="109.39" cy="138.90" rx="0.70" ry="1.7"/><ellipse cx="109.44" cy="143.33" rx="0.70" ry="1.7"/><ellipse cx="109.21" cy="142.47" rx="0.70" ry="1.7"/><ellipse cx="109.40" cy="147.35" rx="0.70" ry="1.7"/><ellipse cx="109.27" cy="149.09" rx="0.70" ry="1.7"/><ellipse cx="109.41" cy="150.21" rx="0.70" ry="1.7"/><ellipse cx="109.46" cy="151.56" rx="0.70" ry="1.7"/><ellipse cx="110.90" cy="139.39" rx="0.70" ry="1.7"/><ellipse cx="110.72" cy="143.18" rx="0.70" ry="1.7"/><ellipse cx="110.88" cy="144.82" rx="0.70" ry="1.7"/><ellipse cx="111.05" cy="145.99" rx="0.70" ry="1.7"/><ellipse cx="110.81" cy="149.25" rx="0.70" ry="1.7"/><ellipse cx="110.89" cy="150.85" rx="0.70" ry="1.7"/><ellipse cx="110.95" cy="153.50" rx="0.70" ry="1.7"/><ellipse cx="112.64" cy="139.14" rx="0.70" ry="1.7"/><ellipse cx="112.39" cy="141.15" rx="0.70" ry="1.7"/><ellipse cx="112.11" cy="144.94" rx="0.70" ry="1.7"/><ellipse cx="112.48" cy="145.62" rx="0.70" ry="1.7"/><ellipse cx="112.33" cy="147.42" rx="0.70" ry="1.7"/><ellipse cx="112.27" cy="151.73" rx="0.70" ry="1.7"/><ellipse cx="112.27" cy="153.01" rx="0.70" ry="1.7"/><ellipse cx="114.17" cy="141.08" rx="0.60" ry="1.7"/><ellipse cx="114.03" cy="141.82" rx="0.60" ry="1.7"/><ellipse cx="114.16" cy="144.86" rx="0.60" ry="1.7"/><ellipse cx="114.21" cy="145.24" rx="0.60" ry="1.7"/><ellipse cx="114.48" cy="148.69" rx="0.60" ry="1.7"/><ellipse cx="114.37" cy="149.19" rx="0.60" ry="1.7"/><ellipse cx="114.47" cy="150.88" rx="0.60" ry="1.7"/><ellipse cx="116.27" cy="140.59" rx="0.70" ry="1.7"/><ellipse cx="116.04" cy="142.48" rx="0.70" ry="1.7"/><ellipse cx="115.91" cy="142.67" rx="0.70" ry="1.7"/><ellipse cx="115.96" cy="146.50" rx="0.70" ry="1.7"/><ellipse cx="116.27" cy="149.35" rx="0.70" ry="1.7"/><ellipse cx="116.32" cy="151.68" rx="0.70" ry="1.7"/><ellipse cx="116.20" cy="153.50" rx="0.70" ry="1.7"/><ellipse cx="117.12" cy="138.90" rx="0.70" ry="1.7"/><ellipse cx="117.16" cy="140.47" rx="0.70" ry="1.7"/><ellipse cx="117.16" cy="145.27" rx="0.70" ry="1.7"/><ellipse cx="116.94" cy="147.28" rx="0.70" ry="1.7"/><ellipse cx="117.09" cy="148.72" rx="0.70" ry="1.7"/><ellipse cx="117.15" cy="149.03" rx="0.70" ry="1.7"/><ellipse cx="117.13" cy="153.32" rx="0.70" ry="1.7"/><ellipse cx="119.00" cy="139.22" rx="0.55" ry="1.7"/><ellipse cx="118.88" cy="142.26" rx="0.55" ry="1.7"/><ellipse cx="118.79" cy="145.36" rx="0.55" ry="1.7"/><ellipse cx="118.67" cy="151.29" rx="0.55" ry="1.7"/><ellipse cx="118.89" cy="152.59" rx="0.55" ry="1.7"/><ellipse cx="120.96" cy="139.43" rx="0.70" ry="1.7"/><ellipse cx="120.86" cy="141.08" rx="0.70" ry="1.7"/><ellipse cx="121.19" cy="145.32" rx="0.70" ry="1.7"/><ellipse cx="121.12" cy="145.10" rx="0.70" ry="1.7"/><ellipse cx="121.06" cy="146.62" rx="0.70" ry="1.7"/><ellipse cx="121.19" cy="151.97" rx="0.70" ry="1.7"/><ellipse cx="120.86" cy="150.80" rx="0.70" ry="1.7"/><ellipse cx="122.71" cy="140.33" rx="0.50" ry="1.7"/><ellipse cx="122.75" cy="142.57" rx="0.50" ry="1.7"/><ellipse cx="122.62" cy="148.27" rx="0.50" ry="1.7"/><ellipse cx="122.74" cy="148.11" rx="0.50" ry="1.7"/><ellipse cx="122.88" cy="152.03" rx="0.50" ry="1.7"/><ellipse cx="124.44" cy="140.60" rx="0.70" ry="1.7"/><ellipse cx="124.24" cy="141.55" rx="0.70" ry="1.7"/><ellipse cx="124.20" cy="143.78" rx="0.70" ry="1.7"/><ellipse cx="124.56" cy="144.82" rx="0.70" ry="1.7"/><ellipse cx="124.48" cy="149.58" rx="0.70" ry="1.7"/><ellipse cx="124.41" cy="149.58" rx="0.70" ry="1.7"/><ellipse cx="124.28" cy="153.50" rx="0.70" ry="1.7"/><ellipse cx="126.50" cy="141.11" rx="0.70" ry="1.7"/><ellipse cx="126.43" cy="143.53" rx="0.70" ry="1.7"/><ellipse cx="126.41" cy="144.31" rx="0.70" ry="1.7"/><ellipse cx="126.60" cy="146.07" rx="0.70" ry="1.7"/><ellipse cx="126.35" cy="150.79" rx="0.70" ry="1.7"/><ellipse cx="126.31" cy="151.00" rx="0.70" ry="1.7"/><ellipse cx="127.48" cy="138.90" rx="0.70" ry="1.7"/><ellipse cx="127.47" cy="142.40" rx="0.70" ry="1.7"/><ellipse cx="127.34" cy="143.78" rx="0.70" ry="1.7"/><ellipse cx="127.33" cy="146.64" rx="0.70" ry="1.7"/><ellipse cx="127.18" cy="148.51" rx="0.70" ry="1.7"/><ellipse cx="127.40" cy="150.94" rx="0.70" ry="1.7"/><ellipse cx="130.31" cy="141.53" rx="0.70" ry="1.7"/><ellipse cx="130.45" cy="142.79" rx="0.70" ry="1.7"/><ellipse cx="130.38" cy="142.78" rx="0.70" ry="1.7"/><ellipse cx="130.41" cy="145.81" rx="0.70" ry="1.7"/><ellipse cx="130.18" cy="149.06" rx="0.70" ry="1.7"/><ellipse cx="130.26" cy="150.15" rx="0.70" ry="1.7"/><ellipse cx="130.36" cy="151.15" rx="0.70" ry="1.7"/><ellipse cx="131.52" cy="139.57" rx="0.70" ry="1.7"/><ellipse cx="131.43" cy="143.00" rx="0.70" ry="1.7"/><ellipse cx="131.23" cy="144.76" rx="0.70" ry="1.7"/><ellipse cx="131.40" cy="146.08" rx="0.70" ry="1.7"/><ellipse cx="131.30" cy="147.09" rx="0.70" ry="1.7"/><ellipse cx="131.33" cy="151.18" rx="0.70" ry="1.7"/><ellipse cx="131.26" cy="153.50" rx="0.70" ry="1.7"/><ellipse cx="133.92" cy="139.04" rx="0.70" ry="1.7"/><ellipse cx="134.00" cy="142.77" rx="0.70" ry="1.7"/><ellipse cx="133.71" cy="144.78" rx="0.70" ry="1.7"/><ellipse cx="133.78" cy="147.38" rx="0.70" ry="1.7"/><ellipse cx="133.69" cy="148.13" rx="0.70" ry="1.7"/><ellipse cx="133.81" cy="149.75" rx="0.70" ry="1.7"/><ellipse cx="133.81" cy="152.19" rx="0.70" ry="1.7"/><ellipse cx="138.00" cy="140.38" rx="0.65" ry="1.7"/><ellipse cx="138.13" cy="141.88" rx="0.65" ry="1.7"/><ellipse cx="137.85" cy="144.52" rx="0.65" ry="1.7"/><ellipse cx="138.10" cy="147.64" rx="0.65" ry="1.7"/><ellipse cx="137.88" cy="147.23" rx="0.65" ry="1.7"/><ellipse cx="137.83" cy="150.00" rx="0.65" ry="1.7"/><ellipse cx="138.03" cy="152.42" rx="0.65" ry="1.7"/><ellipse cx="141.84" cy="141.21" rx="0.60" ry="1.7"/><ellipse cx="141.80" cy="144.27" rx="0.60" ry="1.7"/><ellipse cx="141.84" cy="145.27" rx="0.60" ry="1.7"/><ellipse cx="141.82" cy="147.58" rx="0.60" ry="1.7"/><ellipse cx="141.71" cy="150.39" rx="0.60" ry="1.7"/><ellipse cx="141.73" cy="153.50" rx="0.60" ry="1.7"/><ellipse cx="147.68" cy="140.82" rx="0.70" ry="1.7"/><ellipse cx="147.81" cy="140.77" rx="0.70" ry="1.7"/><ellipse cx="147.69" cy="142.63" rx="0.70" ry="1.7"/><ellipse cx="147.68" cy="145.45" rx="0.70" ry="1.7"/><ellipse cx="147.71" cy="148.01" rx="0.70" ry="1.7"/><ellipse cx="147.66" cy="150.11" rx="0.70" ry="1.7"/><ellipse cx="147.59" cy="151.67" rx="0.70" ry="1.7"/><ellipse cx="149.64" cy="140.75" rx="0.70" ry="1.7"/><ellipse cx="149.45" cy="141.09" rx="0.70" ry="1.7"/><ellipse cx="149.44" cy="145.12" rx="0.70" ry="1.7"/><ellipse cx="149.55" cy="144.96" rx="0.70" ry="1.7"/><ellipse cx="149.56" cy="149.21" rx="0.70" ry="1.7"/><ellipse cx="149.34" cy="150.27" rx="0.70" ry="1.7"/><ellipse cx="149.55" cy="152.66" rx="0.70" ry="1.7"/><ellipse cx="151.61" cy="140.41" rx="0.70" ry="1.7"/><ellipse cx="151.35" cy="143.09" rx="0.70" ry="1.7"/><ellipse cx="151.18" cy="143.43" rx="0.70" ry="1.7"/><ellipse cx="151.46" cy="146.36" rx="0.70" ry="1.7"/><ellipse cx="151.46" cy="147.80" rx="0.70" ry="1.7"/><ellipse cx="151.29" cy="151.54" rx="0.70" ry="1.7"/><ellipse cx="151.42" cy="151.63" rx="0.70" ry="1.7"/><ellipse cx="153.33" cy="138.90" rx="0.70" ry="1.7"/><ellipse cx="153.25" cy="142.09" rx="0.70" ry="1.7"/><ellipse cx="153.22" cy="145.27" rx="0.70" ry="1.7"/><ellipse cx="153.37" cy="149.76" rx="0.70" ry="1.7"/><ellipse cx="153.17" cy="152.78" rx="0.70" ry="1.7"/><ellipse cx="155.96" cy="140.89" rx="0.70" ry="1.7"/><ellipse cx="155.83" cy="140.83" rx="0.70" ry="1.7"/><ellipse cx="155.60" cy="142.50" rx="0.70" ry="1.7"/><ellipse cx="155.92" cy="144.57" rx="0.70" ry="1.7"/><ellipse cx="155.70" cy="147.45" rx="0.70" ry="1.7"/><ellipse cx="155.80" cy="149.04" rx="0.70" ry="1.7"/><ellipse cx="155.82" cy="153.38" rx="0.70" ry="1.7"/><ellipse cx="158.02" cy="143.08" rx="0.65" ry="1.7"/><ellipse cx="157.93" cy="146.66" rx="0.65" ry="1.7"/><ellipse cx="158.03" cy="148.66" rx="0.65" ry="1.7"/><ellipse cx="157.83" cy="153.50" rx="0.65" ry="1.7"/><ellipse cx="159.89" cy="140.05" rx="0.70" ry="1.7"/><ellipse cx="159.77" cy="143.31" rx="0.70" ry="1.7"/><ellipse cx="159.89" cy="144.30" rx="0.70" ry="1.7"/><ellipse cx="159.99" cy="145.00" rx="0.70" ry="1.7"/><ellipse cx="160.03" cy="148.26" rx="0.70" ry="1.7"/><ellipse cx="159.95" cy="149.18" rx="0.70" ry="1.7"/><ellipse cx="159.75" cy="152.43" rx="0.70" ry="1.7"/><ellipse cx="161.10" cy="138.90" rx="0.70" ry="1.7"/><ellipse cx="160.95" cy="143.17" rx="0.70" ry="1.7"/><ellipse cx="161.13" cy="144.67" rx="0.70" ry="1.7"/><ellipse cx="161.01" cy="147.34" rx="0.70" ry="1.7"/><ellipse cx="161.19" cy="149.82" rx="0.70" ry="1.7"/><ellipse cx="160.99" cy="148.95" rx="0.70" ry="1.7"/><ellipse cx="160.97" cy="150.88" rx="0.70" ry="1.7"/><ellipse cx="162.84" cy="141.38" rx="0.65" ry="1.7"/><ellipse cx="163.30" cy="142.06" rx="0.65" ry="1.7"/><ellipse cx="163.03" cy="144.06" rx="0.65" ry="1.7"/><ellipse cx="162.98" cy="146.93" rx="0.65" ry="1.7"/><ellipse cx="162.87" cy="148.70" rx="0.65" ry="1.7"/><ellipse cx="163.20" cy="149.92" rx="0.65" ry="1.7"/><ellipse cx="162.80" cy="152.37" rx="0.65" ry="1.7"/><ellipse cx="166.47" cy="141.03" rx="0.70" ry="1.7"/><ellipse cx="166.56" cy="141.34" rx="0.70" ry="1.7"/><ellipse cx="166.39" cy="144.13" rx="0.70" ry="1.7"/><ellipse cx="166.17" cy="145.44" rx="0.70" ry="1.7"/><ellipse cx="166.49" cy="148.80" rx="0.70" ry="1.7"/><ellipse cx="166.45" cy="151.35" rx="0.70" ry="1.7"/><ellipse cx="166.59" cy="151.79" rx="0.70" ry="1.7"/><ellipse cx="168.31" cy="140.39" rx="0.70" ry="1.7"/><ellipse cx="168.27" cy="142.77" rx="0.70" ry="1.7"/><ellipse cx="168.26" cy="145.40" rx="0.70" ry="1.7"/><ellipse cx="168.29" cy="145.53" rx="0.70" ry="1.7"/><ellipse cx="168.40" cy="146.64" rx="0.70" ry="1.7"/><ellipse cx="168.55" cy="150.73" rx="0.70" ry="1.7"/><ellipse cx="168.36" cy="152.98" rx="0.70" ry="1.7"/><ellipse cx="171.34" cy="140.26" rx="0.70" ry="1.7"/><ellipse cx="171.64" cy="142.63" rx="0.70" ry="1.7"/><ellipse cx="171.77" cy="143.97" rx="0.70" ry="1.7"/><ellipse cx="171.66" cy="147.08" rx="0.70" ry="1.7"/><ellipse cx="171.65" cy="146.74" rx="0.70" ry="1.7"/><ellipse cx="171.75" cy="151.29" rx="0.70" ry="1.7"/><ellipse cx="171.51" cy="152.02" rx="0.70" ry="1.7"/><ellipse cx="173.01" cy="140.90" rx="0.70" ry="1.7"/><ellipse cx="173.06" cy="141.37" rx="0.70" ry="1.7"/><ellipse cx="173.05" cy="143.85" rx="0.70" ry="1.7"/><ellipse cx="173.22" cy="146.67" rx="0.70" ry="1.7"/><ellipse cx="173.25" cy="149.73" rx="0.70" ry="1.7"/><ellipse cx="173.15" cy="148.83" rx="0.70" ry="1.7"/><ellipse cx="173.16" cy="151.19" rx="0.70" ry="1.7"/><ellipse cx="176.25" cy="140.25" rx="0.70" ry="1.7"/><ellipse cx="176.54" cy="143.49" rx="0.70" ry="1.7"/><ellipse cx="176.38" cy="143.82" rx="0.70" ry="1.7"/><ellipse cx="176.35" cy="144.87" rx="0.70" ry="1.7"/><ellipse cx="176.33" cy="147.12" rx="0.70" ry="1.7"/><ellipse cx="176.58" cy="148.75" rx="0.70" ry="1.7"/><ellipse cx="176.41" cy="151.19" rx="0.70" ry="1.7"/><ellipse cx="177.94" cy="138.90" rx="0.70" ry="1.7"/><ellipse cx="177.85" cy="140.42" rx="0.70" ry="1.7"/><ellipse cx="177.91" cy="144.85" rx="0.70" ry="1.7"/><ellipse cx="178.09" cy="145.16" rx="0.70" ry="1.7"/><ellipse cx="177.93" cy="146.78" rx="0.70" ry="1.7"/><ellipse cx="177.71" cy="151.56" rx="0.70" ry="1.7"/><ellipse cx="178.05" cy="153.22" rx="0.70" ry="1.7"/><ellipse cx="179.49" cy="139.81" rx="0.70" ry="1.7"/><ellipse cx="179.39" cy="143.47" rx="0.70" ry="1.7"/><ellipse cx="179.71" cy="144.84" rx="0.70" ry="1.7"/><ellipse cx="179.57" cy="144.57" rx="0.70" ry="1.7"/><ellipse cx="179.42" cy="149.34" rx="0.70" ry="1.7"/><ellipse cx="179.33" cy="148.97" rx="0.70" ry="1.7"/><ellipse cx="179.58" cy="151.34" rx="0.70" ry="1.7"/><ellipse cx="181.14" cy="138.90" rx="0.60" ry="1.7"/><ellipse cx="181.37" cy="141.82" rx="0.60" ry="1.7"/><ellipse cx="181.38" cy="144.70" rx="0.60" ry="1.7"/><ellipse cx="181.42" cy="145.74" rx="0.60" ry="1.7"/><ellipse cx="181.16" cy="148.77" rx="0.60" ry="1.7"/><ellipse cx="181.16" cy="149.99" rx="0.60" ry="1.7"/><ellipse cx="181.45" cy="153.41" rx="0.60" ry="1.7"/><ellipse cx="183.03" cy="140.62" rx="0.70" ry="1.7"/><ellipse cx="183.02" cy="143.12" rx="0.70" ry="1.7"/><ellipse cx="183.24" cy="145.71" rx="0.70" ry="1.7"/><ellipse cx="183.02" cy="147.31" rx="0.70" ry="1.7"/><ellipse cx="183.04" cy="148.05" rx="0.70" ry="1.7"/><ellipse cx="182.97" cy="151.67" rx="0.70" ry="1.7"/><ellipse cx="183.23" cy="152.80" rx="0.70" ry="1.7"/><ellipse cx="184.10" cy="140.97" rx="0.70" ry="1.7"/><ellipse cx="184.11" cy="141.24" rx="0.70" ry="1.7"/><ellipse cx="183.91" cy="143.86" rx="0.70" ry="1.7"/><ellipse cx="183.99" cy="147.49" rx="0.70" ry="1.7"/><ellipse cx="184.21" cy="146.76" rx="0.70" ry="1.7"/><ellipse cx="183.91" cy="151.60" rx="0.70" ry="1.7"/><ellipse cx="184.07" cy="152.70" rx="0.70" ry="1.7"/><ellipse cx="186.13" cy="141.32" rx="0.55" ry="1.7"/><ellipse cx="186.03" cy="141.52" rx="0.55" ry="1.7"/><ellipse cx="185.98" cy="145.11" rx="0.55" ry="1.7"/><ellipse cx="185.90" cy="145.20" rx="0.55" ry="1.7"/><ellipse cx="185.62" cy="147.40" rx="0.55" ry="1.7"/><ellipse cx="185.84" cy="150.73" rx="0.55" ry="1.7"/><ellipse cx="185.78" cy="151.48" rx="0.55" ry="1.7"/><ellipse cx="188.07" cy="138.90" rx="0.70" ry="1.7"/><ellipse cx="187.81" cy="141.14" rx="0.70" ry="1.7"/><ellipse cx="188.20" cy="144.38" rx="0.70" ry="1.7"/><ellipse cx="187.85" cy="146.27" rx="0.70" ry="1.7"/><ellipse cx="187.93" cy="148.21" rx="0.70" ry="1.7"/><ellipse cx="187.96" cy="149.34" rx="0.70" ry="1.7"/><ellipse cx="187.97" cy="151.39" rx="0.70" ry="1.7"/><ellipse cx="189.59" cy="140.18" rx="0.50" ry="1.7"/><ellipse cx="190.09" cy="141.18" rx="0.50" ry="1.7"/><ellipse cx="189.81" cy="144.49" rx="0.50" ry="1.7"/><ellipse cx="189.56" cy="145.88" rx="0.50" ry="1.7"/><ellipse cx="189.54" cy="148.51" rx="0.50" ry="1.7"/><ellipse cx="189.62" cy="152.66" rx="0.50" ry="1.7"/><ellipse cx="191.52" cy="139.90" rx="0.70" ry="1.7"/><ellipse cx="191.38" cy="142.25" rx="0.70" ry="1.7"/><ellipse cx="191.61" cy="143.87" rx="0.70" ry="1.7"/><ellipse cx="191.42" cy="147.69" rx="0.70" ry="1.7"/><ellipse cx="191.18" cy="149.83" rx="0.70" ry="1.7"/><ellipse cx="191.48" cy="149.55" rx="0.70" ry="1.7"/><ellipse cx="191.42" cy="151.39" rx="0.70" ry="1.7"/><ellipse cx="193.75" cy="139.95" rx="0.70" ry="1.7"/><ellipse cx="193.41" cy="140.85" rx="0.70" ry="1.7"/><ellipse cx="193.45" cy="145.37" rx="0.70" ry="1.7"/><ellipse cx="193.54" cy="149.20" rx="0.70" ry="1.7"/><ellipse cx="193.34" cy="148.90" rx="0.70" ry="1.7"/><ellipse cx="193.43" cy="153.50" rx="0.70" ry="1.7"/><ellipse cx="194.33" cy="139.70" rx="0.70" ry="1.7"/><ellipse cx="194.42" cy="144.36" rx="0.70" ry="1.7"/><ellipse cx="194.41" cy="146.90" rx="0.70" ry="1.7"/><ellipse cx="194.43" cy="146.47" rx="0.70" ry="1.7"/><ellipse cx="194.61" cy="149.27" rx="0.70" ry="1.7"/><ellipse cx="194.25" cy="153.50" rx="0.70" ry="1.7"/><ellipse cx="197.26" cy="141.56" rx="0.70" ry="1.7"/><ellipse cx="197.22" cy="142.88" rx="0.70" ry="1.7"/><ellipse cx="197.16" cy="145.58" rx="0.70" ry="1.7"/><ellipse cx="197.11" cy="146.51" rx="0.70" ry="1.7"/><ellipse cx="197.28" cy="149.15" rx="0.70" ry="1.7"/><ellipse cx="197.27" cy="149.56" rx="0.70" ry="1.7"/><ellipse cx="197.13" cy="151.20" rx="0.70" ry="1.7"/><ellipse cx="198.41" cy="138.90" rx="0.70" ry="1.7"/><ellipse cx="198.59" cy="142.62" rx="0.70" ry="1.7"/><ellipse cx="198.42" cy="143.10" rx="0.70" ry="1.7"/><ellipse cx="198.48" cy="144.65" rx="0.70" ry="1.7"/><ellipse cx="198.36" cy="149.73" rx="0.70" ry="1.7"/><ellipse cx="198.45" cy="151.60" rx="0.70" ry="1.7"/><ellipse cx="198.36" cy="152.28" rx="0.70" ry="1.7"/><ellipse cx="200.76" cy="141.08" rx="0.70" ry="1.7"/><ellipse cx="200.75" cy="141.49" rx="0.70" ry="1.7"/><ellipse cx="200.68" cy="145.19" rx="0.70" ry="1.7"/><ellipse cx="200.87" cy="145.01" rx="0.70" ry="1.7"/><ellipse cx="201.03" cy="147.36" rx="0.70" ry="1.7"/><ellipse cx="200.92" cy="150.55" rx="0.70" ry="1.7"/><ellipse cx="200.91" cy="151.27" rx="0.70" ry="1.7"/><ellipse cx="204.93" cy="139.29" rx="0.65" ry="1.7"/><ellipse cx="204.96" cy="144.87" rx="0.65" ry="1.7"/><ellipse cx="205.06" cy="146.16" rx="0.65" ry="1.7"/><ellipse cx="205.05" cy="148.27" rx="0.65" ry="1.7"/><ellipse cx="204.97" cy="153.50" rx="0.65" ry="1.7"/><ellipse cx="44.23" cy="56.47" rx="0.70" ry="1.7"/><ellipse cx="44.34" cy="57.63" rx="0.70" ry="1.7"/><ellipse cx="44.67" cy="60.26" rx="0.70" ry="1.7"/><ellipse cx="44.23" cy="64.22" rx="0.70" ry="1.7"/><ellipse cx="44.19" cy="63.54" rx="0.70" ry="1.7"/><ellipse cx="44.50" cy="65.49" rx="0.70" ry="1.7"/><ellipse cx="44.16" cy="69.81" rx="0.70" ry="1.7"/><ellipse cx="46.57" cy="55.50" rx="0.50" ry="1.7"/><ellipse cx="46.17" cy="61.43" rx="0.50" ry="1.7"/><ellipse cx="46.24" cy="62.50" rx="0.50" ry="1.7"/><ellipse cx="46.28" cy="67.64" rx="0.50" ry="1.7"/><ellipse cx="46.40" cy="66.95" rx="0.50" ry="1.7"/><ellipse cx="47.89" cy="55.50" rx="0.50" ry="1.7"/><ellipse cx="47.84" cy="58.61" rx="0.50" ry="1.7"/><ellipse cx="47.80" cy="59.96" rx="0.50" ry="1.7"/><ellipse cx="47.91" cy="63.49" rx="0.50" ry="1.7"/><ellipse cx="47.68" cy="65.93" rx="0.50" ry="1.7"/><ellipse cx="47.71" cy="65.52" rx="0.50" ry="1.7"/><ellipse cx="47.59" cy="69.83" rx="0.50" ry="1.7"/><ellipse cx="49.35" cy="55.99" rx="0.50" ry="1.7"/><ellipse cx="49.34" cy="59.77" rx="0.50" ry="1.7"/><ellipse cx="49.14" cy="59.10" rx="0.50" ry="1.7"/><ellipse cx="49.01" cy="64.17" rx="0.50" ry="1.7"/><ellipse cx="49.29" cy="64.11" rx="0.50" ry="1.7"/><ellipse cx="49.31" cy="65.92" rx="0.50" ry="1.7"/><ellipse cx="49.15" cy="67.93" rx="0.50" ry="1.7"/><ellipse cx="50.84" cy="56.36" rx="0.70" ry="1.7"/><ellipse cx="50.89" cy="59.34" rx="0.70" ry="1.7"/><ellipse cx="50.97" cy="61.77" rx="0.70" ry="1.7"/><ellipse cx="50.82" cy="63.50" rx="0.70" ry="1.7"/><ellipse cx="50.90" cy="64.49" rx="0.70" ry="1.7"/><ellipse cx="50.86" cy="68.22" rx="0.70" ry="1.7"/><ellipse cx="50.76" cy="70.10" rx="0.70" ry="1.7"/><ellipse cx="53.10" cy="56.67" rx="0.70" ry="1.7"/><ellipse cx="53.18" cy="57.03" rx="0.70" ry="1.7"/><ellipse cx="53.08" cy="59.65" rx="0.70" ry="1.7"/><ellipse cx="53.10" cy="61.47" rx="0.70" ry="1.7"/><ellipse cx="53.32" cy="63.32" rx="0.70" ry="1.7"/><ellipse cx="53.08" cy="65.62" rx="0.70" ry="1.7"/><ellipse cx="53.02" cy="67.45" rx="0.70" ry="1.7"/><ellipse cx="54.78" cy="57.07" rx="0.50" ry="1.7"/><ellipse cx="54.75" cy="61.61" rx="0.50" ry="1.7"/><ellipse cx="54.86" cy="63.81" rx="0.50" ry="1.7"/><ellipse cx="54.82" cy="65.69" rx="0.50" ry="1.7"/><ellipse cx="54.79" cy="68.64" rx="0.50" ry="1.7"/><ellipse cx="56.56" cy="55.50" rx="0.70" ry="1.7"/><ellipse cx="56.50" cy="58.87" rx="0.70" ry="1.7"/><ellipse cx="56.43" cy="61.80" rx="0.70" ry="1.7"/><ellipse cx="56.40" cy="64.26" rx="0.70" ry="1.7"/><ellipse cx="56.58" cy="66.02" rx="0.70" ry="1.7"/><ellipse cx="56.27" cy="67.06" rx="0.70" ry="1.7"/><ellipse cx="56.67" cy="69.98" rx="0.70" ry="1.7"/><ellipse cx="57.63" cy="55.68" rx="0.70" ry="1.7"/><ellipse cx="57.81" cy="60.23" rx="0.70" ry="1.7"/><ellipse cx="57.89" cy="61.73" rx="0.70" ry="1.7"/><ellipse cx="57.59" cy="63.96" rx="0.70" ry="1.7"/><ellipse cx="57.40" cy="63.40" rx="0.70" ry="1.7"/><ellipse cx="57.67" cy="68.42" rx="0.70" ry="1.7"/><ellipse cx="57.55" cy="68.22" rx="0.70" ry="1.7"/><ellipse cx="59.38" cy="55.50" rx="0.50" ry="1.7"/><ellipse cx="59.28" cy="59.57" rx="0.50" ry="1.7"/><ellipse cx="59.30" cy="61.12" rx="0.50" ry="1.7"/><ellipse cx="59.35" cy="67.91" rx="0.50" ry="1.7"/><ellipse cx="59.02" cy="69.26" rx="0.50" ry="1.7"/><ellipse cx="60.88" cy="57.02" rx="0.70" ry="1.7"/><ellipse cx="61.08" cy="57.87" rx="0.70" ry="1.7"/><ellipse cx="61.05" cy="60.86" rx="0.70" ry="1.7"/><ellipse cx="60.82" cy="61.97" rx="0.70" ry="1.7"/><ellipse cx="60.63" cy="64.95" rx="0.70" ry="1.7"/><ellipse cx="61.02" cy="66.26" rx="0.70" ry="1.7"/><ellipse cx="60.86" cy="68.41" rx="0.70" ry="1.7"/><ellipse cx="62.65" cy="58.06" rx="0.70" ry="1.7"/><ellipse cx="62.68" cy="58.67" rx="0.70" ry="1.7"/><ellipse cx="62.83" cy="60.83" rx="0.70" ry="1.7"/><ellipse cx="62.75" cy="61.63" rx="0.70" ry="1.7"/><ellipse cx="62.74" cy="64.20" rx="0.70" ry="1.7"/><ellipse cx="62.68" cy="66.66" rx="0.70" ry="1.7"/><ellipse cx="62.79" cy="67.68" rx="0.70" ry="1.7"/><ellipse cx="66.46" cy="57.04" rx="0.70" ry="1.7"/><ellipse cx="66.58" cy="58.50" rx="0.70" ry="1.7"/><ellipse cx="66.30" cy="60.87" rx="0.70" ry="1.7"/><ellipse cx="66.31" cy="62.17" rx="0.70" ry="1.7"/><ellipse cx="66.43" cy="64.03" rx="0.70" ry="1.7"/><ellipse cx="66.54" cy="66.58" rx="0.70" ry="1.7"/><ellipse cx="66.51" cy="69.34" rx="0.70" ry="1.7"/><ellipse cx="69.16" cy="56.94" rx="0.70" ry="1.7"/><ellipse cx="69.07" cy="59.12" rx="0.70" ry="1.7"/><ellipse cx="69.50" cy="60.79" rx="0.70" ry="1.7"/><ellipse cx="69.17" cy="65.08" rx="0.70" ry="1.7"/><ellipse cx="69.19" cy="67.90" rx="0.70" ry="1.7"/><ellipse cx="69.26" cy="68.65" rx="0.70" ry="1.7"/><ellipse cx="73.40" cy="55.50" rx="0.60" ry="1.7"/><ellipse cx="73.54" cy="57.71" rx="0.60" ry="1.7"/><ellipse cx="73.30" cy="59.56" rx="0.60" ry="1.7"/><ellipse cx="73.24" cy="62.26" rx="0.60" ry="1.7"/><ellipse cx="73.49" cy="65.27" rx="0.60" ry="1.7"/><ellipse cx="73.41" cy="68.14" rx="0.60" ry="1.7"/><ellipse cx="73.22" cy="69.85" rx="0.60" ry="1.7"/><ellipse cx="14.95" cy="187.34" rx="0.70" ry="1.7"/><ellipse cx="14.87" cy="189.97" rx="0.70" ry="1.7"/><ellipse cx="14.92" cy="189.16" rx="0.70" ry="1.7"/><ellipse cx="14.74" cy="192.89" rx="0.70" ry="1.7"/><ellipse cx="14.79" cy="196.53" rx="0.70" ry="1.7"/><ellipse cx="14.85" cy="198.02" rx="0.70" ry="1.7"/><ellipse cx="14.81" cy="200.20" rx="0.70" ry="1.7"/><ellipse cx="16.63" cy="186.50" rx="0.70" ry="1.7"/><ellipse cx="16.67" cy="189.47" rx="0.70" ry="1.7"/><ellipse cx="16.82" cy="191.00" rx="0.70" ry="1.7"/><ellipse cx="16.61" cy="192.51" rx="0.70" ry="1.7"/><ellipse cx="16.89" cy="196.15" rx="0.70" ry="1.7"/><ellipse cx="16.63" cy="197.07" rx="0.70" ry="1.7"/><ellipse cx="16.73" cy="198.50" rx="0.70" ry="1.7"/><ellipse cx="18.46" cy="186.89" rx="0.70" ry="1.7"/><ellipse cx="18.47" cy="190.13" rx="0.70" ry="1.7"/><ellipse cx="18.63" cy="190.23" rx="0.70" ry="1.7"/><ellipse cx="18.31" cy="194.43" rx="0.70" ry="1.7"/><ellipse cx="18.26" cy="194.00" rx="0.70" ry="1.7"/><ellipse cx="18.62" cy="195.44" rx="0.70" ry="1.7"/><ellipse cx="18.37" cy="197.65" rx="0.70" ry="1.7"/><ellipse cx="20.49" cy="186.97" rx="0.70" ry="1.7"/><ellipse cx="20.41" cy="191.19" rx="0.70" ry="1.7"/><ellipse cx="20.53" cy="192.40" rx="0.70" ry="1.7"/><ellipse cx="20.45" cy="193.69" rx="0.70" ry="1.7"/><ellipse cx="20.68" cy="195.97" rx="0.70" ry="1.7"/><ellipse cx="20.48" cy="200.20" rx="0.70" ry="1.7"/><ellipse cx="22.82" cy="186.89" rx="0.70" ry="1.7"/><ellipse cx="23.09" cy="190.00" rx="0.70" ry="1.7"/><ellipse cx="22.92" cy="190.61" rx="0.70" ry="1.7"/><ellipse cx="23.06" cy="193.32" rx="0.70" ry="1.7"/><ellipse cx="22.95" cy="195.09" rx="0.70" ry="1.7"/><ellipse cx="23.00" cy="198.13" rx="0.70" ry="1.7"/><ellipse cx="23.04" cy="200.20" rx="0.70" ry="1.7"/><ellipse cx="25.34" cy="185.60" rx="0.65" ry="1.7"/><ellipse cx="25.09" cy="191.48" rx="0.65" ry="1.7"/><ellipse cx="25.30" cy="195.19" rx="0.65" ry="1.7"/><ellipse cx="25.12" cy="194.21" rx="0.65" ry="1.7"/><ellipse cx="25.06" cy="197.76" rx="0.65" ry="1.7"/><ellipse cx="27.09" cy="186.37" rx="0.70" ry="1.7"/><ellipse cx="27.08" cy="192.29" rx="0.70" ry="1.7"/><ellipse cx="27.07" cy="192.49" rx="0.70" ry="1.7"/><ellipse cx="27.04" cy="197.16" rx="0.70" ry="1.7"/><ellipse cx="27.27" cy="196.42" rx="0.70" ry="1.7"/><ellipse cx="28.15" cy="189.42" rx="0.70" ry="1.7"/><ellipse cx="28.21" cy="189.30" rx="0.70" ry="1.7"/><ellipse cx="28.21" cy="194.71" rx="0.70" ry="1.7"/><ellipse cx="28.27" cy="199.23" rx="0.70" ry="1.7"/><ellipse cx="30.15" cy="187.11" rx="0.65" ry="1.7"/><ellipse cx="30.23" cy="187.91" rx="0.65" ry="1.7"/><ellipse cx="30.24" cy="192.69" rx="0.65" ry="1.7"/><ellipse cx="30.23" cy="192.83" rx="0.65" ry="1.7"/><ellipse cx="30.27" cy="196.64" rx="0.65" ry="1.7"/><ellipse cx="30.05" cy="200.18" rx="0.65" ry="1.7"/><ellipse cx="33.66" cy="187.36" rx="0.70" ry="1.7"/><ellipse cx="33.76" cy="187.95" rx="0.70" ry="1.7"/><ellipse cx="33.83" cy="189.48" rx="0.70" ry="1.7"/><ellipse cx="33.61" cy="192.40" rx="0.70" ry="1.7"/><ellipse cx="33.67" cy="194.82" rx="0.70" ry="1.7"/><ellipse cx="33.73" cy="198.37" rx="0.70" ry="1.7"/><ellipse cx="33.83" cy="199.43" rx="0.70" ry="1.7"/><ellipse cx="35.47" cy="185.81" rx="0.70" ry="1.7"/><ellipse cx="35.71" cy="187.21" rx="0.70" ry="1.7"/><ellipse cx="35.40" cy="190.20" rx="0.70" ry="1.7"/><ellipse cx="35.54" cy="194.23" rx="0.70" ry="1.7"/><ellipse cx="35.41" cy="195.33" rx="0.70" ry="1.7"/><ellipse cx="35.21" cy="198.61" rx="0.70" ry="1.7"/><ellipse cx="35.51" cy="198.30" rx="0.70" ry="1.7"/><ellipse cx="38.59" cy="188.28" rx="0.70" ry="1.7"/><ellipse cx="38.82" cy="188.25" rx="0.70" ry="1.7"/><ellipse cx="38.75" cy="190.41" rx="0.70" ry="1.7"/><ellipse cx="38.86" cy="195.95" rx="0.70" ry="1.7"/><ellipse cx="38.75" cy="195.74" rx="0.70" ry="1.7"/><ellipse cx="38.78" cy="199.11" rx="0.70" ry="1.7"/><ellipse cx="40.36" cy="186.44" rx="0.70" ry="1.7"/><ellipse cx="40.32" cy="190.52" rx="0.70" ry="1.7"/><ellipse cx="40.30" cy="191.10" rx="0.70" ry="1.7"/><ellipse cx="40.38" cy="193.27" rx="0.70" ry="1.7"/><ellipse cx="40.47" cy="195.53" rx="0.70" ry="1.7"/><ellipse cx="40.34" cy="198.37" rx="0.70" ry="1.7"/><ellipse cx="209.59" cy="187.76" rx="0.70" ry="1.7"/><ellipse cx="209.59" cy="189.85" rx="0.70" ry="1.7"/><ellipse cx="209.56" cy="191.83" rx="0.70" ry="1.7"/><ellipse cx="209.59" cy="193.64" rx="0.70" ry="1.7"/><ellipse cx="209.58" cy="194.57" rx="0.70" ry="1.7"/><ellipse cx="209.48" cy="198.58" rx="0.70" ry="1.7"/><ellipse cx="209.52" cy="199.17" rx="0.70" ry="1.7"/><ellipse cx="211.43" cy="187.33" rx="0.70" ry="1.7"/><ellipse cx="211.43" cy="187.93" rx="0.70" ry="1.7"/><ellipse cx="211.21" cy="190.37" rx="0.70" ry="1.7"/><ellipse cx="211.24" cy="192.05" rx="0.70" ry="1.7"/><ellipse cx="211.25" cy="196.23" rx="0.70" ry="1.7"/><ellipse cx="211.15" cy="195.81" rx="0.70" ry="1.7"/><ellipse cx="211.29" cy="198.39" rx="0.70" ry="1.7"/><ellipse cx="213.01" cy="186.26" rx="0.70" ry="1.7"/><ellipse cx="212.97" cy="188.10" rx="0.70" ry="1.7"/><ellipse cx="213.16" cy="190.45" rx="0.70" ry="1.7"/><ellipse cx="213.14" cy="194.07" rx="0.70" ry="1.7"/><ellipse cx="213.07" cy="194.39" rx="0.70" ry="1.7"/><ellipse cx="213.05" cy="197.28" rx="0.70" ry="1.7"/><ellipse cx="213.00" cy="198.69" rx="0.70" ry="1.7"/><ellipse cx="215.15" cy="185.83" rx="0.70" ry="1.7"/><ellipse cx="215.13" cy="188.89" rx="0.70" ry="1.7"/><ellipse cx="215.05" cy="194.16" rx="0.70" ry="1.7"/><ellipse cx="215.19" cy="200.20" rx="0.70" ry="1.7"/><ellipse cx="217.30" cy="187.24" rx="0.70" ry="1.7"/><ellipse cx="217.48" cy="189.27" rx="0.70" ry="1.7"/><ellipse cx="217.65" cy="191.35" rx="0.70" ry="1.7"/><ellipse cx="217.55" cy="193.56" rx="0.70" ry="1.7"/><ellipse cx="217.78" cy="194.49" rx="0.70" ry="1.7"/><ellipse cx="217.57" cy="197.50" rx="0.70" ry="1.7"/><ellipse cx="217.60" cy="200.20" rx="0.70" ry="1.7"/><ellipse cx="219.87" cy="185.60" rx="0.65" ry="1.7"/><ellipse cx="219.82" cy="188.07" rx="0.65" ry="1.7"/><ellipse cx="219.78" cy="190.92" rx="0.65" ry="1.7"/><ellipse cx="219.82" cy="193.38" rx="0.65" ry="1.7"/><ellipse cx="219.90" cy="197.09" rx="0.65" ry="1.7"/><ellipse cx="220.01" cy="199.26" rx="0.65" ry="1.7"/><ellipse cx="221.93" cy="186.35" rx="0.70" ry="1.7"/><ellipse cx="221.70" cy="191.27" rx="0.70" ry="1.7"/><ellipse cx="221.93" cy="191.90" rx="0.70" ry="1.7"/><ellipse cx="221.76" cy="196.32" rx="0.70" ry="1.7"/><ellipse cx="221.70" cy="196.63" rx="0.70" ry="1.7"/><ellipse cx="222.96" cy="185.71" rx="0.70" ry="1.7"/><ellipse cx="222.90" cy="191.92" rx="0.70" ry="1.7"/><ellipse cx="222.85" cy="193.81" rx="0.70" ry="1.7"/><ellipse cx="222.90" cy="195.32" rx="0.70" ry="1.7"/><ellipse cx="222.67" cy="197.72" rx="0.70" ry="1.7"/><ellipse cx="224.97" cy="186.52" rx="0.65" ry="1.7"/><ellipse cx="224.72" cy="190.18" rx="0.65" ry="1.7"/><ellipse cx="224.71" cy="192.97" rx="0.65" ry="1.7"/><ellipse cx="224.71" cy="192.38" rx="0.65" ry="1.7"/><ellipse cx="224.67" cy="197.32" rx="0.65" ry="1.7"/><ellipse cx="224.86" cy="200.20" rx="0.65" ry="1.7"/><ellipse cx="228.29" cy="187.66" rx="0.70" ry="1.7"/><ellipse cx="228.45" cy="190.30" rx="0.70" ry="1.7"/><ellipse cx="228.21" cy="191.27" rx="0.70" ry="1.7"/><ellipse cx="228.28" cy="191.43" rx="0.70" ry="1.7"/><ellipse cx="228.23" cy="194.51" rx="0.70" ry="1.7"/><ellipse cx="228.34" cy="196.44" rx="0.70" ry="1.7"/><ellipse cx="228.25" cy="197.94" rx="0.70" ry="1.7"/><ellipse cx="229.93" cy="185.78" rx="0.70" ry="1.7"/><ellipse cx="229.84" cy="188.78" rx="0.70" ry="1.7"/><ellipse cx="230.20" cy="190.32" rx="0.70" ry="1.7"/><ellipse cx="230.15" cy="192.23" rx="0.70" ry="1.7"/><ellipse cx="230.06" cy="195.20" rx="0.70" ry="1.7"/><ellipse cx="230.16" cy="196.52" rx="0.70" ry="1.7"/><ellipse cx="229.96" cy="200.03" rx="0.70" ry="1.7"/><ellipse cx="233.43" cy="187.85" rx="0.70" ry="1.7"/><ellipse cx="233.35" cy="188.43" rx="0.70" ry="1.7"/><ellipse cx="233.41" cy="191.14" rx="0.70" ry="1.7"/><ellipse cx="233.44" cy="193.26" rx="0.70" ry="1.7"/><ellipse cx="233.36" cy="195.37" rx="0.70" ry="1.7"/><ellipse cx="233.28" cy="197.48" rx="0.70" ry="1.7"/><ellipse cx="234.85" cy="186.69" rx="0.70" ry="1.7"/><ellipse cx="234.96" cy="187.58" rx="0.70" ry="1.7"/><ellipse cx="235.10" cy="189.78" rx="0.70" ry="1.7"/><ellipse cx="234.89" cy="192.50" rx="0.70" ry="1.7"/><ellipse cx="235.05" cy="197.40" rx="0.70" ry="1.7"/><ellipse cx="234.88" cy="197.46" rx="0.70" ry="1.7"/></g>
<g fill="none" stroke="#222" stroke-width="0.5" filter="url(#bl)"><ellipse cx="190.90" cy="187.76" rx="0.45" ry="1.3"/><ellipse cx="190.78" cy="189.58" rx="0.45" ry="1.3"/><ellipse cx="190.70" cy="191.55" rx="0.45" ry="1.3"/><ellipse cx="190.96" cy="193.13" rx="0.45" ry="1.3"/><ellipse cx="191.07" cy="194.89" rx="0.45" ry="1.3"/><ellipse cx="190.80" cy="196.40" rx="0.45" ry="1.3"/><ellipse cx="190.76" cy="198.02" rx="0.45" ry="1.3"/></g>
<g fill="none" stroke="#999" stroke-width="0.45" filter="url(#bl)"><ellipse cx="199.82" cy="196.04" rx="0.5" ry="1.2"/><ellipse cx="199.44" cy="192.11" rx="0.5" ry="1.2"/><ellipse cx="203.11" cy="195.92" rx="0.5" ry="1.2"/><ellipse cx="203.34" cy="191.18" rx="0.5" ry="1.2"/></g>
<text x="0.00" y="0.00" transform="translate(308.20,23.90) scale(0.64,1)" font-size="11.8" font-weight="bold" fill="#111" stroke="#111" stroke-width="0.25" text-anchor="middle" >B</text>
<line x1="348.40" y1="93.20" x2="348.40" y2="102.60" stroke="#3a3a3a" stroke-width="1.0"/>
<line x1="356.10" y1="93.20" x2="356.10" y2="102.60" stroke="#b4b4b4" stroke-width="1.0"/>
<line x1="363.70" y1="77.70" x2="363.70" y2="102.60" stroke="#b4b4b4" stroke-width="1.0"/>
<line x1="371.50" y1="66.40" x2="371.50" y2="102.60" stroke="#b4b4b4" stroke-width="1.0"/>
<line x1="379.30" y1="66.40" x2="379.30" y2="102.60" stroke="#b4b4b4" stroke-width="1.0"/>
<line x1="387.10" y1="79.70" x2="387.10" y2="102.60" stroke="#787878" stroke-width="1.0"/>
<line x1="394.50" y1="79.70" x2="394.50" y2="102.60" stroke="#3a3a3a" stroke-width="1.0"/>
<line x1="402.30" y1="56.10" x2="402.30" y2="102.60" stroke="#787878" stroke-width="1.0"/>
<line x1="410.20" y1="56.10" x2="410.20" y2="102.60" stroke="#3a3a3a" stroke-width="1.0"/>
<line x1="348.40" y1="93.20" x2="356.10" y2="93.20" stroke="#999" stroke-width="1.0"/>
<line x1="356.10" y1="95.40" x2="363.70" y2="95.40" stroke="#999" stroke-width="1.0"/>
<line x1="363.70" y1="77.70" x2="371.50" y2="77.70" stroke="#999" stroke-width="1.0"/>
<line x1="371.50" y1="66.40" x2="379.30" y2="66.40" stroke="#999" stroke-width="1.0"/>
<line x1="379.30" y1="85.30" x2="387.10" y2="85.30" stroke="#999" stroke-width="1.0"/>
<line x1="387.10" y1="79.70" x2="394.50" y2="79.70" stroke="#787878" stroke-width="1.0"/>
<line x1="394.50" y1="102.00" x2="402.30" y2="102.00" stroke="#3a3a3a" stroke-width="1.0"/>
<line x1="402.30" y1="56.10" x2="410.20" y2="56.10" stroke="#999" stroke-width="1.0"/>
<line x1="348.40" y1="102.60" x2="410.20" y2="102.60" stroke="#b4b4b4" stroke-width="1.1"/>
<line x1="329.90" y1="61.50" x2="329.90" y2="102.90" stroke="#6a6a6a" stroke-width="1.0"/>
<line x1="326.90" y1="102.90" x2="329.90" y2="102.90" stroke="#888" stroke-width="0.8"/>
<line x1="326.90" y1="94.62" x2="329.90" y2="94.62" stroke="#888" stroke-width="0.8"/>
<line x1="326.90" y1="86.34" x2="329.90" y2="86.34" stroke="#888" stroke-width="0.8"/>
<line x1="326.90" y1="78.06" x2="329.90" y2="78.06" stroke="#888" stroke-width="0.8"/>
<line x1="326.90" y1="69.78" x2="329.90" y2="69.78" stroke="#888" stroke-width="0.8"/>
<line x1="326.90" y1="61.50" x2="329.90" y2="61.50" stroke="#888" stroke-width="0.8"/>
<text x="0.00" y="0.00" transform="translate(321.00,102.90) rotate(-90)" font-size="5.8" font-weight="normal" fill="#444" stroke="#444" stroke-width="0.12" text-anchor="middle" >0.0</text>
<text x="0.00" y="0.00" transform="translate(321.00,86.34) rotate(-90)" font-size="5.8" font-weight="normal" fill="#444" stroke="#444" stroke-width="0.12" text-anchor="middle" >1.0</text>
<text x="0.00" y="0.00" transform="translate(321.00,69.78) rotate(-90)" font-size="5.8" font-weight="normal" fill="#444" stroke="#444" stroke-width="0.12" text-anchor="middle" >2.0</text>
<line x1="332.40" y1="104.40" x2="410.20" y2="104.40" stroke="#bdbdbd" stroke-width="1.2"/>
<line x1="332.40" y1="104.40" x2="332.40" y2="107.40" stroke="#787878" stroke-width="0.9"/>
<text x="332.40" y="116.00" font-size="6.1" font-weight="normal" fill="#444" stroke="#444" stroke-width="0.12" text-anchor="middle" >0.0</text>
<line x1="348.40" y1="104.40" x2="348.40" y2="107.40" stroke="#3a3a3a" stroke-width="0.9"/>
<text x="348.40" y="116.00" font-size="6.1" font-weight="normal" fill="#444" stroke="#444" stroke-width="0.12" text-anchor="middle" >0.2</text>
<line x1="363.70" y1="104.40" x2="363.70" y2="107.40" stroke="#b4b4b4" stroke-width="0.9"/>
<text x="363.70" y="116.00" font-size="6.1" font-weight="normal" fill="#444" stroke="#444" stroke-width="0.12" text-anchor="middle" >0.4</text>
<line x1="379.30" y1="104.40" x2="379.30" y2="107.40" stroke="#b4b4b4" stroke-width="0.9"/>
<text x="379.30" y="116.00" font-size="6.1" font-weight="normal" fill="#444" stroke="#444" stroke-width="0.12" text-anchor="middle" >0.6</text>
<line x1="394.50" y1="104.40" x2="394.50" y2="107.40" stroke="#3a3a3a" stroke-width="0.9"/>
<text x="394.50" y="116.00" font-size="6.1" font-weight="normal" fill="#444" stroke="#444" stroke-width="0.12" text-anchor="middle" >0.8</text>
<line x1="410.20" y1="104.40" x2="410.20" y2="107.40" stroke="#3a3a3a" stroke-width="0.9"/>
<text x="410.20" y="116.00" font-size="6.1" font-weight="normal" fill="#444" stroke="#444" stroke-width="0.12" text-anchor="middle" >1.0</text>
<text x="371.60" y="44.90" font-size="7.5" font-weight="bold" fill="#111" text-anchor="middle" >Raw Treated</text>
<text x="371.35" y="128.70" font-size="6.1" font-weight="normal" fill="#555" stroke="#555" stroke-width="0.12" text-anchor="middle" >Propensity Score</text>
<text x="0.00" y="0.00" transform="translate(306.00,79.00) rotate(-90) scale(0.86,1)" font-size="6.0" font-weight="normal" fill="#444" stroke="#444" stroke-width="0.12" text-anchor="middle" >Density</text>
<line x1="478.00" y1="92.30" x2="478.00" y2="101.90" stroke="#3a3a3a" stroke-width="1.0"/>
<line x1="485.70" y1="92.30" x2="485.70" y2="101.90" stroke="#b4b4b4" stroke-width="1.0"/>
<line x1="493.50" y1="76.50" x2="493.50" y2="101.90" stroke="#b4b4b4" stroke-width="1.0"/>
<line x1="501.40" y1="65.70" x2="501.40" y2="101.90" stroke="#b4b4b4" stroke-width="1.0"/>
<line x1="509.20" y1="65.70" x2="509.20" y2="101.90" stroke="#b4b4b4" stroke-width="1.0"/>
<line x1="516.80" y1="78.80" x2="516.80" y2="101.90" stroke="#787878" stroke-width="1.0"/>
<line x1="524.30" y1="78.80" x2="524.30" y2="101.90" stroke="#3a3a3a" stroke-width="1.0"/>
<line x1="531.90" y1="54.50" x2="531.90" y2="101.90" stroke="#787878" stroke-width="1.0"/>
<line x1="540.10" y1="54.50" x2="540.10" y2="101.90" stroke="#3a3a3a" stroke-width="1.0"/>
<line x1="478.00" y1="92.30" x2="485.70" y2="92.30" stroke="#999" stroke-width="1.0"/>
<line x1="485.70" y1="94.30" x2="493.50" y2="94.30" stroke="#999" stroke-width="1.0"/>
<line x1="493.50" y1="76.50" x2="501.40" y2="76.50" stroke="#999" stroke-width="1.0"/>
<line x1="501.40" y1="65.70" x2="509.20" y2="65.70" stroke="#999" stroke-width="1.0"/>
<line x1="509.20" y1="84.40" x2="516.80" y2="84.40" stroke="#999" stroke-width="1.0"/>
<line x1="516.80" y1="78.80" x2="524.30" y2="78.80" stroke="#787878" stroke-width="1.0"/>
<line x1="524.30" y1="101.30" x2="531.90" y2="101.30" stroke="#3a3a3a" stroke-width="1.0"/>
<line x1="531.90" y1="54.50" x2="540.10" y2="54.50" stroke="#999" stroke-width="1.0"/>
<line x1="478.00" y1="101.90" x2="540.10" y2="101.90" stroke="#b4b4b4" stroke-width="1.1"/>
<line x1="459.50" y1="60.50" x2="459.50" y2="102.00" stroke="#6a6a6a" stroke-width="1.0"/>
<line x1="456.50" y1="102.00" x2="459.50" y2="102.00" stroke="#888" stroke-width="0.8"/>
<line x1="456.50" y1="93.70" x2="459.50" y2="93.70" stroke="#888" stroke-width="0.8"/>
<line x1="456.50" y1="85.40" x2="459.50" y2="85.40" stroke="#888" stroke-width="0.8"/>
<line x1="456.50" y1="77.10" x2="459.50" y2="77.10" stroke="#888" stroke-width="0.8"/>
<line x1="456.50" y1="68.80" x2="459.50" y2="68.80" stroke="#888" stroke-width="0.8"/>
<line x1="456.50" y1="60.50" x2="459.50" y2="60.50" stroke="#888" stroke-width="0.8"/>
<text x="0.00" y="0.00" transform="translate(451.00,102.00) rotate(-90)" font-size="5.8" font-weight="normal" fill="#444" stroke="#444" stroke-width="0.12" text-anchor="middle" >0.0</text>
<text x="0.00" y="0.00" transform="translate(451.00,85.40) rotate(-90)" font-size="5.8" font-weight="normal" fill="#444" stroke="#444" stroke-width="0.12" text-anchor="middle" >1.0</text>
<text x="0.00" y="0.00" transform="translate(451.00,68.80) rotate(-90)" font-size="5.8" font-weight="normal" fill="#444" stroke="#444" stroke-width="0.12" text-anchor="middle" >2.0</text>
<line x1="462.50" y1="103.90" x2="540.10" y2="103.90" stroke="#bdbdbd" stroke-width="1.2"/>
<line x1="462.50" y1="103.90" x2="462.50" y2="106.90" stroke="#787878" stroke-width="0.9"/>
<text x="462.50" y="115.40" font-size="6.1" font-weight="normal" fill="#444" stroke="#444" stroke-width="0.12" text-anchor="middle" >0.0</text>
<line x1="478.00" y1="103.90" x2="478.00" y2="106.90" stroke="#3a3a3a" stroke-width="0.9"/>
<text x="478.00" y="115.40" font-size="6.1" font-weight="normal" fill="#444" stroke="#444" stroke-width="0.12" text-anchor="middle" >0.2</text>
<line x1="493.50" y1="103.90" x2="493.50" y2="106.90" stroke="#b4b4b4" stroke-width="0.9"/>
<text x="493.50" y="115.40" font-size="6.1" font-weight="normal" fill="#444" stroke="#444" stroke-width="0.12" text-anchor="middle" >0.4</text>
<line x1="509.20" y1="103.90" x2="509.20" y2="106.90" stroke="#b4b4b4" stroke-width="0.9"/>
<text x="509.20" y="115.40" font-size="6.1" font-weight="normal" fill="#444" stroke="#444" stroke-width="0.12" text-anchor="middle" >0.6</text>
<line x1="524.30" y1="103.90" x2="524.30" y2="106.90" stroke="#3a3a3a" stroke-width="0.9"/>
<text x="524.30" y="115.40" font-size="6.1" font-weight="normal" fill="#444" stroke="#444" stroke-width="0.12" text-anchor="middle" >0.8</text>
<line x1="540.10" y1="103.90" x2="540.10" y2="106.90" stroke="#3a3a3a" stroke-width="0.9"/>
<text x="540.10" y="115.40" font-size="6.1" font-weight="normal" fill="#444" stroke="#444" stroke-width="0.12" text-anchor="middle" >1.0</text>
<text x="500.50" y="44.80" font-size="7.5" font-weight="bold" fill="#111" text-anchor="middle" >Matched Treated</text>
<text x="500.60" y="128.70" font-size="6.1" font-weight="normal" fill="#555" stroke="#555" stroke-width="0.12" text-anchor="middle" >Propensity Score</text>
<text x="0.00" y="0.00" transform="translate(436.20,78.90) rotate(-90) scale(0.86,1)" font-size="6.0" font-weight="normal" fill="#444" stroke="#444" stroke-width="0.12" text-anchor="middle" >Density</text>
<line x1="332.30" y1="203.90" x2="332.30" y2="210.30" stroke="#787878" stroke-width="1.0"/>
<line x1="340.30" y1="188.40" x2="340.30" y2="210.30" stroke="#3a3a3a" stroke-width="1.0"/>
<line x1="348.30" y1="186.60" x2="348.30" y2="210.30" stroke="#3a3a3a" stroke-width="1.0"/>
<line x1="356.30" y1="186.60" x2="356.30" y2="210.30" stroke="#b4b4b4" stroke-width="1.0"/>
<line x1="363.50" y1="163.40" x2="363.50" y2="210.30" stroke="#b4b4b4" stroke-width="1.0"/>
<line x1="371.50" y1="163.40" x2="371.50" y2="210.30" stroke="#b4b4b4" stroke-width="1.0"/>
<line x1="379.50" y1="175.10" x2="379.50" y2="210.30" stroke="#b4b4b4" stroke-width="1.0"/>
<line x1="387.30" y1="194.40" x2="387.30" y2="210.30" stroke="#787878" stroke-width="1.0"/>
<line x1="394.60" y1="200.30" x2="394.60" y2="210.30" stroke="#3a3a3a" stroke-width="1.0"/>
<line x1="402.10" y1="209.50" x2="402.10" y2="210.30" stroke="#3a3a3a" stroke-width="1.0"/>
<line x1="410.30" y1="209.50" x2="410.30" y2="210.30" stroke="#3a3a3a" stroke-width="1.0"/>
<line x1="332.30" y1="203.90" x2="340.30" y2="203.90" stroke="#999" stroke-width="1.0"/>
<line x1="340.30" y1="188.40" x2="348.30" y2="188.40" stroke="#787878" stroke-width="1.0"/>
<line x1="348.30" y1="186.60" x2="356.30" y2="186.60" stroke="#787878" stroke-width="1.0"/>
<line x1="356.30" y1="196.30" x2="363.50" y2="196.30" stroke="#999" stroke-width="1.0"/>
<line x1="363.50" y1="163.40" x2="371.50" y2="163.40" stroke="#3a3a3a" stroke-width="1.0"/>
<line x1="371.50" y1="175.10" x2="379.50" y2="175.10" stroke="#999" stroke-width="1.0"/>
<line x1="379.50" y1="194.40" x2="387.30" y2="194.40" stroke="#787878" stroke-width="1.0"/>
<line x1="387.30" y1="200.30" x2="394.60" y2="200.30" stroke="#787878" stroke-width="1.0"/>
<line x1="402.10" y1="209.50" x2="410.30" y2="209.50" stroke="#3a3a3a" stroke-width="1.0"/>
<line x1="332.30" y1="210.30" x2="410.30" y2="210.30" stroke="#555" stroke-width="1.1"/>
<line x1="330.20" y1="166.60" x2="330.20" y2="210.30" stroke="#6a6a6a" stroke-width="1.0"/>
<line x1="327.20" y1="210.30" x2="330.20" y2="210.30" stroke="#888" stroke-width="0.8"/>
<line x1="327.20" y1="201.56" x2="330.20" y2="201.56" stroke="#888" stroke-width="0.8"/>
<line x1="327.20" y1="192.82" x2="330.20" y2="192.82" stroke="#888" stroke-width="0.8"/>
<line x1="327.20" y1="184.08" x2="330.20" y2="184.08" stroke="#888" stroke-width="0.8"/>
<line x1="327.20" y1="175.34" x2="330.20" y2="175.34" stroke="#888" stroke-width="0.8"/>
<line x1="327.20" y1="166.60" x2="330.20" y2="166.60" stroke="#888" stroke-width="0.8"/>
<text x="0.00" y="0.00" transform="translate(321.00,210.30) rotate(-90)" font-size="5.8" font-weight="normal" fill="#444" stroke="#444" stroke-width="0.12" text-anchor="middle" >0.0</text>
<text x="0.00" y="0.00" transform="translate(321.00,192.82) rotate(-90)" font-size="5.8" font-weight="normal" fill="#444" stroke="#444" stroke-width="0.12" text-anchor="middle" >1.0</text>
<text x="0.00" y="0.00" transform="translate(321.00,175.34) rotate(-90)" font-size="5.8" font-weight="normal" fill="#444" stroke="#444" stroke-width="0.12" text-anchor="middle" >2.0</text>
<line x1="332.30" y1="212.50" x2="410.30" y2="212.50" stroke="#bdbdbd" stroke-width="1.2"/>
<line x1="332.30" y1="212.50" x2="332.30" y2="215.50" stroke="#787878" stroke-width="0.9"/>
<text x="332.30" y="223.80" font-size="6.1" font-weight="normal" fill="#444" stroke="#444" stroke-width="0.12" text-anchor="middle" >0.0</text>
<line x1="348.30" y1="212.50" x2="348.30" y2="215.50" stroke="#3a3a3a" stroke-width="0.9"/>
<text x="348.30" y="223.80" font-size="6.1" font-weight="normal" fill="#444" stroke="#444" stroke-width="0.12" text-anchor="middle" >0.2</text>
<line x1="363.50" y1="212.50" x2="363.50" y2="215.50" stroke="#b4b4b4" stroke-width="0.9"/>
<text x="363.50" y="223.80" font-size="6.1" font-weight="normal" fill="#444" stroke="#444" stroke-width="0.12" text-anchor="middle" >0.4</text>
<line x1="379.50" y1="212.50" x2="379.50" y2="215.50" stroke="#b4b4b4" stroke-width="0.9"/>
<text x="379.50" y="223.80" font-size="6.1" font-weight="normal" fill="#444" stroke="#444" stroke-width="0.12" text-anchor="middle" >0.6</text>
<line x1="394.60" y1="212.50" x2="394.60" y2="215.50" stroke="#3a3a3a" stroke-width="0.9"/>
<text x="394.60" y="223.80" font-size="6.1" font-weight="normal" fill="#444" stroke="#444" stroke-width="0.12" text-anchor="middle" >0.8</text>
<line x1="410.30" y1="212.50" x2="410.30" y2="215.50" stroke="#3a3a3a" stroke-width="0.9"/>
<text x="410.30" y="223.80" font-size="6.1" font-weight="normal" fill="#444" stroke="#444" stroke-width="0.12" text-anchor="middle" >1.0</text>
<text x="371.60" y="152.40" font-size="7.5" font-weight="bold" fill="#111" text-anchor="middle" >Raw Control</text>
<text x="371.35" y="236.30" font-size="6.1" font-weight="normal" fill="#555" stroke="#555" stroke-width="0.12" text-anchor="middle" >Propensity Score</text>
<text x="0.00" y="0.00" transform="translate(306.50,186.90) rotate(-90) scale(0.86,1)" font-size="6.0" font-weight="normal" fill="#444" stroke="#444" stroke-width="0.12" text-anchor="middle" >Density</text>
<line x1="482.40" y1="200.50" x2="482.40" y2="210.00" stroke="#3a3a3a" stroke-width="1.0"/>
<line x1="490.20" y1="200.50" x2="490.20" y2="210.00" stroke="#b4b4b4" stroke-width="1.0"/>
<line x1="498.10" y1="184.70" x2="498.10" y2="210.00" stroke="#b4b4b4" stroke-width="1.0"/>
<line x1="506.00" y1="174.20" x2="506.00" y2="210.00" stroke="#b4b4b4" stroke-width="1.0"/>
<line x1="513.40" y1="174.20" x2="513.40" y2="210.00" stroke="#b4b4b4" stroke-width="1.0"/>
<line x1="521.30" y1="187.00" x2="521.30" y2="210.00" stroke="#787878" stroke-width="1.0"/>
<line x1="528.90" y1="187.00" x2="528.90" y2="210.00" stroke="#3a3a3a" stroke-width="1.0"/>
<line x1="536.40" y1="163.10" x2="536.40" y2="210.00" stroke="#787878" stroke-width="1.0"/>
<line x1="544.50" y1="163.10" x2="544.50" y2="210.00" stroke="#3a3a3a" stroke-width="1.0"/>
<line x1="482.40" y1="200.50" x2="490.20" y2="200.50" stroke="#999" stroke-width="1.0"/>
<line x1="490.20" y1="202.30" x2="498.10" y2="202.30" stroke="#999" stroke-width="1.0"/>
<line x1="498.10" y1="184.70" x2="506.00" y2="184.70" stroke="#999" stroke-width="1.0"/>
<line x1="506.00" y1="174.20" x2="513.40" y2="174.20" stroke="#999" stroke-width="1.0"/>
<line x1="513.40" y1="192.20" x2="521.30" y2="192.20" stroke="#999" stroke-width="1.0"/>
<line x1="521.30" y1="187.00" x2="528.90" y2="187.00" stroke="#787878" stroke-width="1.0"/>
<line x1="528.90" y1="209.30" x2="536.40" y2="209.30" stroke="#3a3a3a" stroke-width="1.0"/>
<line x1="536.40" y1="163.10" x2="544.50" y2="163.10" stroke="#999" stroke-width="1.0"/>
<line x1="482.40" y1="210.00" x2="544.50" y2="210.00" stroke="#b4b4b4" stroke-width="1.1"/>
<line x1="464.40" y1="168.70" x2="464.40" y2="210.30" stroke="#6a6a6a" stroke-width="1.0"/>
<line x1="461.40" y1="210.30" x2="464.40" y2="210.30" stroke="#888" stroke-width="0.8"/>
<line x1="461.40" y1="201.98" x2="464.40" y2="201.98" stroke="#888" stroke-width="0.8"/>
<line x1="461.40" y1="193.66" x2="464.40" y2="193.66" stroke="#888" stroke-width="0.8"/>
<line x1="461.40" y1="185.34" x2="464.40" y2="185.34" stroke="#888" stroke-width="0.8"/>
<line x1="461.40" y1="177.02" x2="464.40" y2="177.02" stroke="#888" stroke-width="0.8"/>
<line x1="461.40" y1="168.70" x2="464.40" y2="168.70" stroke="#888" stroke-width="0.8"/>
<text x="0.00" y="0.00" transform="translate(455.30,210.30) rotate(-90)" font-size="5.8" font-weight="normal" fill="#444" stroke="#444" stroke-width="0.12" text-anchor="middle" >0.0</text>
<text x="0.00" y="0.00" transform="translate(455.30,193.66) rotate(-90)" font-size="5.8" font-weight="normal" fill="#444" stroke="#444" stroke-width="0.12" text-anchor="middle" >1.0</text>
<text x="0.00" y="0.00" transform="translate(455.30,177.02) rotate(-90)" font-size="5.8" font-weight="normal" fill="#444" stroke="#444" stroke-width="0.12" text-anchor="middle" >2.0</text>
<line x1="467.00" y1="212.00" x2="544.50" y2="212.00" stroke="#bdbdbd" stroke-width="1.2"/>
<line x1="467.00" y1="212.00" x2="467.00" y2="215.00" stroke="#787878" stroke-width="0.9"/>
<text x="467.00" y="223.60" font-size="6.1" font-weight="normal" fill="#444" stroke="#444" stroke-width="0.12" text-anchor="middle" >0.0</text>
<line x1="482.40" y1="212.00" x2="482.40" y2="215.00" stroke="#3a3a3a" stroke-width="0.9"/>
<text x="482.40" y="223.60" font-size="6.1" font-weight="normal" fill="#444" stroke="#444" stroke-width="0.12" text-anchor="middle" >0.2</text>
<line x1="498.10" y1="212.00" x2="498.10" y2="215.00" stroke="#b4b4b4" stroke-width="0.9"/>
<text x="498.10" y="223.60" font-size="6.1" font-weight="normal" fill="#444" stroke="#444" stroke-width="0.12" text-anchor="middle" >0.4</text>
<line x1="513.40" y1="212.00" x2="513.40" y2="215.00" stroke="#b4b4b4" stroke-width="0.9"/>
<text x="513.40" y="223.60" font-size="6.1" font-weight="normal" fill="#444" stroke="#444" stroke-width="0.12" text-anchor="middle" >0.6</text>
<line x1="528.90" y1="212.00" x2="528.90" y2="215.00" stroke="#3a3a3a" stroke-width="0.9"/>
<text x="528.90" y="223.60" font-size="6.1" font-weight="normal" fill="#444" stroke="#444" stroke-width="0.12" text-anchor="middle" >0.8</text>
<line x1="544.50" y1="212.00" x2="544.50" y2="215.00" stroke="#3a3a3a" stroke-width="0.9"/>
<text x="544.50" y="223.60" font-size="6.1" font-weight="normal" fill="#444" stroke="#444" stroke-width="0.12" text-anchor="middle" >1.0</text>
<text x="500.50" y="152.40" font-size="7.5" font-weight="bold" fill="#111" text-anchor="middle" >Matched Control</text>
<text x="500.50" y="236.30" font-size="6.1" font-weight="normal" fill="#555" stroke="#555" stroke-width="0.12" text-anchor="middle" >Propensity Score</text>
<text x="0.00" y="0.00" transform="translate(439.90,186.30) rotate(-90) scale(0.86,1)" font-size="6.0" font-weight="normal" fill="#444" stroke="#444" stroke-width="0.12" text-anchor="middle" >Density</text>
</g>
</svg></body></html>
